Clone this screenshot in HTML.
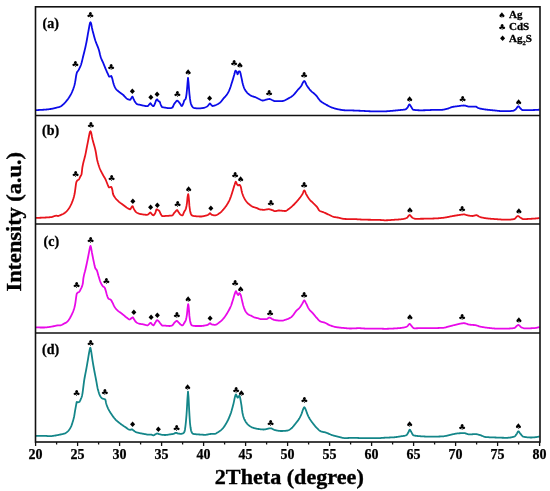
<!DOCTYPE html>
<html><head><meta charset="utf-8"><style>
html,body{margin:0;padding:0;background:#fff;}
body{width:550px;height:491px;overflow:hidden;}
svg{display:block;}
.tl{font-family:"Liberation Serif",serif;font-weight:bold;font-size:14px;text-anchor:middle;fill:#000;stroke:#000;stroke-width:0.25px;}
.m{font-family:"DejaVu Sans",sans-serif;font-size:8.0px;text-anchor:middle;dominant-baseline:central;fill:#000;}
.pl{font-family:"Liberation Serif",serif;font-weight:bold;font-size:14px;fill:#000;stroke:#000;stroke-width:0.3px;}
.lg{font-family:"Liberation Serif",serif;font-weight:bold;font-size:11px;fill:#000;stroke:#000;stroke-width:0.3px;}
.ax{font-family:"Liberation Serif",serif;font-weight:bold;font-size:21px;fill:#000;stroke:#000;stroke-width:0.35px;}
</style></head><body>
<svg width="550" height="491" viewBox="0 0 550 491">
<rect width="550" height="491" fill="#fff"/>
<g fill="none" stroke-width="1.8" stroke-linejoin="round">
<path d="M35.00,110.10 L35.50,110.09 L36.00,110.09 L36.50,110.07 L37.00,110.06 L37.50,110.04 L38.00,110.03 L38.50,110.00 L39.00,109.98 L39.50,109.96 L40.00,109.93 L40.50,109.91 L41.00,109.88 L41.50,109.85 L42.00,109.82 L42.50,109.79 L43.00,109.76 L43.50,109.73 L43.90,109.70 L44.00,109.69 L44.50,109.66 L45.00,109.62 L45.50,109.58 L46.00,109.54 L46.50,109.49 L47.00,109.44 L47.50,109.39 L48.00,109.33 L48.50,109.27 L49.00,109.21 L49.50,109.14 L50.00,109.08 L50.50,109.00 L51.00,108.93 L51.20,108.90 L51.50,108.85 L52.00,108.76 L52.50,108.66 L53.00,108.55 L53.50,108.43 L54.00,108.30 L54.50,108.17 L55.00,108.03 L55.50,107.90 L56.00,107.76 L56.50,107.63 L57.00,107.50 L57.50,107.38 L58.00,107.26 L58.50,107.15 L59.00,107.02 L59.50,106.88 L60.00,106.70 L60.50,106.47 L61.00,106.19 L61.50,105.85 L62.00,105.47 L62.50,105.05 L63.00,104.62 L63.50,104.18 L63.70,104.00 L64.00,103.72 L64.50,103.23 L65.00,102.70 L65.50,102.14 L66.00,101.54 L66.50,100.92 L67.00,100.29 L67.30,99.90 L67.50,99.64 L68.00,98.96 L68.50,98.24 L69.00,97.49 L69.50,96.70 L70.00,95.87 L70.10,95.70 L70.50,95.00 L71.00,94.07 L71.50,93.07 L72.00,92.01 L72.40,91.10 L72.50,90.87 L73.00,89.65 L73.50,88.31 L74.00,86.78 L74.20,86.10 L74.50,84.96 L75.00,82.69 L75.40,80.60 L75.50,80.00 L76.00,76.56 L76.10,76.00 L76.50,74.04 L77.00,72.30 L77.50,71.49 L78.00,70.92 L78.30,70.50 L78.50,70.17 L79.00,69.24 L79.50,68.22 L79.70,67.80 L80.00,67.16 L80.50,66.04 L80.90,65.00 L81.00,64.71 L81.50,63.06 L82.00,61.17 L82.50,59.12 L83.00,57.03 L83.30,55.80 L83.50,54.99 L84.00,52.98 L84.50,50.94 L85.00,48.85 L85.50,46.69 L86.00,44.41 L86.40,42.50 L86.50,42.00 L87.00,39.25 L87.50,36.30 L88.00,33.40 L88.40,31.30 L88.50,30.80 L89.00,28.00 L89.50,25.21 L90.00,23.06 L90.50,22.20 L91.00,23.11 L91.50,25.30 L92.00,27.96 L92.50,30.30 L93.00,32.20 L93.50,34.09 L94.00,35.94 L94.50,37.72 L95.00,39.41 L95.50,41.00 L96.00,42.43 L96.50,43.72 L97.00,44.94 L97.50,46.14 L98.00,47.40 L98.50,48.77 L98.90,50.00 L99.00,50.34 L99.50,52.31 L100.00,54.47 L100.50,56.38 L100.60,56.70 L101.00,57.85 L101.50,59.12 L102.00,60.27 L102.50,61.37 L103.00,62.47 L103.40,63.40 L103.50,63.64 L104.00,64.86 L104.50,66.10 L105.00,67.33 L105.50,68.55 L106.00,69.74 L106.20,70.20 L106.50,70.89 L107.00,72.02 L107.50,73.13 L108.00,74.19 L108.20,74.60 L108.50,75.31 L109.00,76.44 L109.30,76.70 L109.50,76.69 L110.00,76.56 L110.20,76.50 L110.50,76.35 L111.00,76.04 L111.20,76.00 L111.50,76.31 L112.00,77.73 L112.40,79.10 L112.50,79.44 L113.00,81.60 L113.50,83.60 L114.00,85.03 L114.50,86.31 L115.00,87.40 L115.50,88.30 L115.70,88.60 L116.00,89.00 L116.50,89.59 L117.00,90.10 L117.50,90.55 L118.00,90.97 L118.50,91.40 L119.00,91.82 L119.50,92.21 L120.00,92.59 L120.50,92.95 L121.00,93.31 L121.50,93.66 L122.00,94.03 L122.50,94.40 L123.00,94.80 L123.50,95.24 L124.00,95.74 L124.50,96.26 L125.00,96.81 L125.50,97.34 L126.00,97.86 L126.50,98.33 L127.00,98.74 L127.50,99.07 L128.00,99.30 L128.50,99.47 L129.00,99.63 L129.50,99.74 L130.00,99.80 L130.10,99.80 L130.50,99.49 L131.00,98.59 L131.40,97.90 L131.50,97.75 L132.00,96.93 L132.40,96.60 L132.50,96.64 L133.00,97.67 L133.30,98.40 L133.50,98.81 L134.00,99.91 L134.50,100.97 L135.00,101.86 L135.10,102.00 L135.50,102.54 L136.00,103.16 L136.50,103.70 L137.00,104.11 L137.40,104.30 L137.50,104.33 L138.00,104.46 L138.50,104.55 L139.00,104.62 L139.50,104.69 L140.00,104.78 L140.10,104.80 L140.50,104.89 L141.00,105.01 L141.50,105.14 L142.00,105.28 L142.50,105.41 L143.00,105.53 L143.50,105.64 L143.80,105.70 L144.00,105.74 L144.50,105.83 L145.00,105.92 L145.50,106.01 L146.00,106.08 L146.50,106.14 L147.00,106.19 L147.50,106.20 L148.00,105.94 L148.50,105.35 L149.00,104.65 L149.30,104.30 L149.50,104.07 L150.00,103.44 L150.40,103.20 L150.50,103.22 L151.00,103.85 L151.50,104.68 L151.60,104.80 L152.00,105.22 L152.50,105.72 L153.00,106.09 L153.40,106.20 L153.50,106.18 L154.00,105.59 L154.50,104.55 L154.80,103.90 L155.00,103.43 L155.50,101.94 L156.00,100.56 L156.20,100.20 L156.50,99.78 L157.00,99.32 L157.10,99.30 L157.50,99.60 L158.00,100.44 L158.50,101.10 L159.00,101.32 L159.50,101.53 L159.60,101.60 L160.00,102.38 L160.50,103.98 L160.80,104.80 L161.00,105.24 L161.50,106.34 L162.00,107.05 L162.10,107.10 L162.50,107.22 L163.00,107.34 L163.50,107.42 L164.00,107.48 L164.50,107.53 L165.00,107.60 L165.50,107.68 L166.00,107.77 L166.50,107.86 L167.00,107.94 L167.50,108.02 L168.00,108.10 L168.50,108.15 L169.00,108.19 L169.50,108.20 L170.00,108.18 L170.50,108.12 L171.00,108.02 L171.50,107.89 L172.00,107.72 L172.30,107.60 L172.50,107.44 L173.00,106.55 L173.50,105.34 L174.00,104.30 L174.50,103.54 L175.00,102.86 L175.50,102.23 L175.70,102.00 L176.00,101.62 L176.50,100.98 L177.00,100.61 L177.10,100.60 L177.50,100.74 L178.00,101.18 L178.50,101.70 L179.00,102.25 L179.50,102.90 L180.00,103.57 L180.10,103.70 L180.50,104.33 L181.00,105.21 L181.50,105.87 L181.80,106.00 L182.00,105.93 L182.50,105.23 L183.00,104.14 L183.20,103.70 L183.50,102.86 L184.00,101.15 L184.30,100.40 L184.50,100.10 L185.00,99.61 L185.50,99.06 L185.70,98.70 L186.00,97.60 L186.50,94.35 L186.60,93.60 L187.00,89.52 L187.40,84.70 L187.50,83.42 L188.00,77.90 L188.50,82.40 L189.00,88.78 L189.40,93.60 L189.50,94.54 L190.00,98.94 L190.50,102.17 L190.60,102.60 L191.00,104.00 L191.50,105.30 L191.90,106.00 L192.00,106.14 L192.50,106.79 L193.00,107.34 L193.50,107.75 L194.00,107.98 L194.10,108.00 L194.50,108.07 L195.00,108.14 L195.50,108.21 L196.00,108.27 L196.50,108.31 L197.00,108.35 L197.50,108.38 L198.00,108.39 L198.50,108.40 L198.60,108.40 L199.00,108.40 L199.50,108.38 L200.00,108.35 L200.50,108.31 L201.00,108.27 L201.50,108.21 L202.00,108.15 L202.50,108.09 L203.00,108.01 L203.10,108.00 L203.50,107.93 L204.00,107.81 L204.50,107.66 L205.00,107.49 L205.50,107.28 L206.00,107.04 L206.50,106.78 L207.00,106.50 L207.50,106.11 L208.00,105.59 L208.50,105.02 L208.70,104.80 L209.00,104.39 L209.50,103.67 L209.80,103.50 L210.00,103.55 L210.50,103.99 L211.00,104.60 L211.20,104.80 L211.50,105.11 L212.00,105.66 L212.50,105.99 L212.60,106.00 L213.00,105.97 L213.50,105.88 L214.00,105.74 L214.50,105.57 L215.00,105.40 L215.50,105.22 L216.00,105.02 L216.50,104.80 L217.00,104.55 L217.50,104.29 L218.00,104.00 L218.50,103.68 L219.00,103.35 L219.50,103.00 L219.90,102.70 L220.00,102.62 L220.50,102.17 L221.00,101.64 L221.50,101.05 L222.00,100.43 L222.50,99.78 L223.00,99.14 L223.50,98.52 L223.60,98.40 L224.00,97.94 L224.50,97.39 L225.00,96.84 L225.50,96.29 L226.00,95.70 L226.50,95.08 L227.00,94.39 L227.20,94.10 L227.50,93.63 L228.00,92.77 L228.50,91.83 L229.00,90.79 L229.50,89.67 L229.70,89.20 L230.00,88.44 L230.50,87.02 L231.00,85.47 L231.50,83.84 L232.00,82.22 L232.10,81.90 L232.50,80.61 L233.00,78.96 L233.50,77.28 L234.00,75.60 L234.30,74.60 L234.50,73.84 L235.00,71.70 L235.50,70.60 L236.00,70.90 L236.50,71.60 L236.80,72.10 L237.00,72.63 L237.50,74.22 L237.60,74.30 L238.00,73.57 L238.50,71.94 L238.80,71.50 L239.00,71.50 L239.50,71.50 L239.80,71.50 L240.00,71.67 L240.50,73.27 L241.00,75.65 L241.30,77.00 L241.50,77.86 L242.00,80.29 L242.50,82.71 L242.90,84.30 L243.00,84.63 L243.50,86.21 L244.00,87.62 L244.50,88.82 L245.00,89.80 L245.50,90.61 L246.00,91.32 L246.50,91.96 L247.00,92.53 L247.50,93.04 L248.00,93.50 L248.50,93.93 L249.00,94.33 L249.50,94.71 L250.00,95.05 L250.50,95.37 L251.00,95.65 L251.50,95.91 L251.70,96.00 L252.00,96.13 L252.50,96.31 L253.00,96.47 L253.50,96.62 L254.00,96.77 L254.50,96.92 L255.00,97.09 L255.30,97.20 L255.50,97.28 L256.00,97.50 L256.50,97.75 L257.00,98.00 L257.50,98.26 L258.00,98.52 L258.50,98.77 L259.00,99.00 L259.50,99.24 L260.00,99.50 L260.50,99.77 L261.00,100.03 L261.50,100.25 L262.00,100.41 L262.50,100.49 L262.70,100.50 L263.00,100.49 L263.50,100.42 L264.00,100.30 L264.50,100.15 L265.00,99.98 L265.50,99.82 L266.00,99.67 L266.30,99.60 L266.50,99.55 L267.00,99.43 L267.50,99.30 L268.00,99.18 L268.50,99.08 L269.00,99.02 L269.40,99.00 L269.50,99.00 L270.00,99.08 L270.50,99.25 L271.00,99.47 L271.50,99.73 L272.00,99.98 L272.50,100.20 L273.00,100.43 L273.50,100.69 L274.00,100.94 L274.50,101.13 L275.00,101.20 L275.50,101.20 L276.00,101.20 L276.50,101.19 L277.00,101.19 L277.50,101.18 L278.00,101.17 L278.50,101.16 L279.00,101.14 L279.50,101.13 L280.00,101.11 L280.50,101.10 L281.00,101.08 L281.50,101.05 L282.00,101.03 L282.50,101.01 L282.60,101.00 L283.00,100.96 L283.50,100.85 L284.00,100.70 L284.50,100.50 L285.00,100.27 L285.50,100.01 L286.00,99.74 L286.50,99.46 L287.00,99.17 L287.50,98.90 L287.70,98.80 L288.00,98.65 L288.50,98.38 L289.00,98.11 L289.50,97.83 L290.00,97.54 L290.50,97.24 L291.00,96.92 L291.50,96.58 L292.00,96.22 L292.50,95.84 L292.80,95.60 L293.00,95.43 L293.50,94.97 L294.00,94.45 L294.50,93.89 L295.00,93.30 L295.50,92.69 L296.00,92.07 L296.50,91.45 L297.00,90.85 L297.30,90.50 L297.50,90.27 L298.00,89.72 L298.50,89.17 L299.00,88.62 L299.50,88.06 L300.00,87.48 L300.50,86.88 L301.00,86.23 L301.10,86.10 L301.50,85.47 L302.00,84.49 L302.50,83.43 L303.00,82.42 L303.50,81.59 L304.00,81.09 L304.30,81.00 L304.50,81.06 L305.00,81.62 L305.50,82.61 L306.00,83.77 L306.50,84.87 L306.80,85.40 L307.00,85.71 L307.50,86.46 L308.00,87.19 L308.50,87.89 L309.00,88.57 L309.50,89.22 L310.00,89.82 L310.50,90.39 L310.60,90.50 L311.00,90.91 L311.50,91.39 L312.00,91.84 L312.50,92.26 L313.00,92.66 L313.50,93.06 L314.00,93.46 L314.50,93.88 L315.00,94.32 L315.50,94.80 L315.70,95.00 L316.00,95.32 L316.50,95.91 L317.00,96.56 L317.50,97.23 L318.00,97.93 L318.50,98.62 L319.00,99.30 L319.50,99.93 L320.00,100.52 L320.50,101.03 L320.80,101.30 L321.00,101.46 L321.50,101.85 L322.00,102.21 L322.50,102.55 L323.00,102.86 L323.50,103.16 L324.00,103.45 L324.50,103.73 L325.00,104.00 L325.50,104.28 L325.90,104.50 L326.00,104.56 L326.50,104.84 L327.00,105.12 L327.50,105.40 L328.00,105.68 L328.50,105.95 L329.00,106.21 L329.50,106.47 L330.00,106.72 L330.50,106.96 L331.00,107.19 L331.50,107.40 L332.00,107.59 L332.30,107.70 L332.50,107.77 L333.00,107.94 L333.50,108.10 L334.00,108.26 L334.50,108.41 L335.00,108.56 L335.50,108.69 L336.00,108.83 L336.50,108.95 L337.00,109.07 L337.50,109.18 L338.00,109.28 L338.50,109.38 L338.60,109.40 L339.00,109.47 L339.50,109.57 L340.00,109.66 L340.50,109.75 L341.00,109.83 L341.50,109.92 L342.00,110.00 L342.50,110.07 L343.00,110.13 L343.50,110.19 L344.00,110.24 L344.50,110.27 L345.00,110.30 L345.50,110.32 L346.00,110.34 L346.50,110.35 L347.00,110.37 L347.50,110.38 L348.00,110.39 L348.50,110.40 L349.00,110.41 L349.50,110.42 L350.00,110.42 L350.50,110.43 L351.00,110.44 L351.50,110.45 L352.00,110.46 L352.50,110.47 L353.00,110.48 L353.50,110.50 L353.60,110.50 L354.00,110.51 L354.50,110.53 L355.00,110.55 L355.50,110.57 L356.00,110.59 L356.50,110.61 L357.00,110.63 L357.50,110.65 L358.00,110.68 L358.50,110.70 L359.00,110.73 L359.50,110.75 L360.00,110.77 L360.50,110.80 L361.00,110.82 L361.50,110.85 L362.00,110.87 L362.50,110.89 L362.70,110.90 L363.00,110.91 L363.50,110.94 L364.00,110.96 L364.50,110.99 L365.00,111.02 L365.50,111.05 L366.00,111.08 L366.50,111.11 L367.00,111.14 L367.50,111.16 L368.00,111.19 L368.50,111.21 L369.00,111.24 L369.50,111.26 L370.00,111.27 L370.50,111.28 L371.00,111.29 L371.50,111.30 L371.80,111.30 L372.00,111.30 L372.50,111.30 L373.00,111.30 L373.50,111.30 L374.00,111.30 L374.50,111.30 L375.00,111.30 L375.50,111.30 L376.00,111.30 L376.50,111.30 L377.00,111.30 L377.50,111.30 L378.00,111.30 L378.50,111.30 L379.00,111.30 L379.50,111.30 L380.00,111.30 L380.50,111.30 L381.00,111.30 L381.50,111.30 L382.00,111.30 L382.50,111.30 L383.00,111.30 L383.50,111.30 L384.00,111.30 L384.50,111.30 L385.00,111.30 L385.50,111.30 L386.00,111.28 L386.50,111.27 L387.00,111.24 L387.50,111.21 L388.00,111.17 L388.50,111.14 L389.00,111.09 L389.50,111.05 L390.00,111.00 L390.50,110.96 L391.00,110.91 L391.50,110.87 L392.00,110.82 L392.30,110.80 L392.50,110.78 L393.00,110.74 L393.50,110.70 L394.00,110.65 L394.50,110.61 L395.00,110.56 L395.50,110.51 L396.00,110.46 L396.50,110.41 L397.00,110.36 L397.50,110.31 L398.00,110.26 L398.50,110.21 L399.00,110.15 L399.50,110.10 L400.00,110.05 L400.50,110.01 L401.00,109.97 L401.50,109.93 L402.00,109.89 L402.50,109.84 L403.00,109.79 L403.50,109.73 L404.00,109.67 L404.50,109.58 L405.00,109.49 L405.40,109.40 L405.50,109.37 L406.00,109.11 L406.50,108.69 L407.00,108.17 L407.50,107.60 L408.00,106.74 L408.50,105.62 L409.00,104.69 L409.40,104.40 L409.50,104.42 L410.00,104.87 L410.50,105.71 L411.00,106.60 L411.20,106.90 L411.50,107.34 L412.00,108.18 L412.50,108.99 L413.00,109.59 L413.40,109.80 L413.50,109.81 L414.00,109.88 L414.50,109.94 L415.00,110.00 L415.50,110.05 L416.00,110.09 L416.50,110.13 L417.00,110.17 L417.50,110.20 L418.00,110.23 L418.50,110.25 L419.00,110.26 L419.50,110.28 L420.00,110.29 L420.50,110.30 L421.00,110.30 L421.40,110.30 L421.50,110.30 L422.00,110.30 L422.50,110.29 L423.00,110.28 L423.50,110.27 L424.00,110.26 L424.50,110.25 L425.00,110.23 L425.50,110.21 L426.00,110.19 L426.50,110.18 L427.00,110.16 L427.50,110.14 L428.00,110.12 L428.50,110.10 L428.60,110.10 L429.00,110.09 L429.50,110.06 L430.00,110.04 L430.50,110.02 L431.00,109.99 L431.50,109.96 L432.00,109.93 L432.50,109.91 L433.00,109.88 L433.50,109.86 L434.00,109.84 L434.50,109.82 L435.00,109.81 L435.50,109.80 L435.90,109.80 L436.00,109.80 L436.50,109.80 L437.00,109.80 L437.50,109.80 L438.00,109.80 L438.50,109.80 L439.00,109.80 L439.50,109.80 L440.00,109.80 L440.50,109.80 L441.00,109.80 L441.50,109.80 L441.70,109.80 L442.00,109.80 L442.50,109.77 L443.00,109.72 L443.50,109.64 L444.00,109.55 L444.50,109.45 L445.00,109.34 L445.50,109.22 L446.00,109.09 L446.50,108.96 L447.00,108.83 L447.50,108.70 L448.00,108.56 L448.50,108.39 L449.00,108.20 L449.50,108.00 L450.00,107.79 L450.50,107.58 L451.00,107.38 L451.50,107.20 L452.00,107.05 L452.50,106.92 L452.60,106.90 L453.00,106.82 L453.50,106.74 L454.00,106.66 L454.50,106.59 L455.00,106.52 L455.50,106.46 L456.00,106.40 L456.50,106.34 L457.00,106.28 L457.50,106.22 L457.70,106.20 L458.00,106.16 L458.50,106.09 L459.00,106.02 L459.50,105.94 L460.00,105.87 L460.50,105.80 L461.00,105.73 L461.50,105.66 L462.00,105.61 L462.50,105.56 L463.00,105.53 L463.50,105.51 L463.90,105.50 L464.00,105.50 L464.50,105.54 L465.00,105.62 L465.50,105.73 L466.00,105.87 L466.50,106.02 L467.00,106.17 L467.50,106.31 L468.00,106.44 L468.50,106.53 L469.00,106.59 L469.30,106.60 L469.50,106.60 L470.00,106.60 L470.50,106.60 L471.00,106.60 L471.50,106.60 L472.00,106.60 L472.50,106.60 L473.00,106.60 L473.50,106.60 L474.00,106.60 L474.50,106.60 L475.00,106.60 L475.50,106.60 L476.00,106.69 L476.50,106.92 L477.00,107.23 L477.50,107.57 L478.00,107.88 L478.50,108.10 L479.00,108.25 L479.50,108.39 L480.00,108.52 L480.50,108.64 L481.00,108.75 L481.50,108.86 L482.00,108.96 L482.50,109.05 L483.00,109.14 L483.50,109.22 L484.00,109.30 L484.50,109.37 L484.70,109.40 L485.00,109.44 L485.50,109.51 L486.00,109.58 L486.50,109.64 L487.00,109.70 L487.50,109.76 L488.00,109.82 L488.50,109.87 L489.00,109.92 L489.50,109.97 L490.00,110.02 L490.50,110.07 L491.00,110.12 L491.50,110.17 L492.00,110.21 L492.50,110.26 L493.00,110.31 L493.50,110.35 L494.00,110.40 L494.50,110.45 L495.00,110.50 L495.50,110.56 L496.00,110.61 L496.50,110.67 L497.00,110.73 L497.50,110.78 L498.00,110.84 L498.50,110.90 L499.00,110.95 L499.50,111.00 L500.00,111.04 L500.50,111.08 L501.00,111.12 L501.50,111.15 L502.00,111.17 L502.50,111.19 L503.00,111.20 L503.30,111.20 L503.50,111.20 L504.00,111.20 L504.50,111.20 L505.00,111.19 L505.50,111.19 L506.00,111.18 L506.50,111.17 L507.00,111.16 L507.50,111.15 L508.00,111.13 L508.50,111.11 L509.00,111.10 L509.50,111.08 L510.00,111.05 L510.50,111.03 L511.00,111.00 L511.50,110.97 L512.00,110.94 L512.50,110.91 L512.60,110.90 L513.00,110.84 L513.50,110.68 L514.00,110.44 L514.50,110.14 L515.00,109.81 L515.50,109.47 L515.60,109.40 L516.00,109.02 L516.50,108.36 L517.00,107.61 L517.50,106.92 L518.00,106.44 L518.40,106.30 L518.50,106.31 L519.00,106.62 L519.50,107.21 L520.00,107.90 L520.50,108.51 L520.60,108.60 L521.00,108.98 L521.50,109.48 L522.00,109.89 L522.50,110.09 L522.60,110.10 L523.00,110.10 L523.50,110.10 L524.00,110.10 L524.50,110.10 L525.00,110.10 L525.50,110.10 L526.00,110.10 L526.50,110.10 L527.00,110.10 L527.50,110.10 L528.00,110.10 L528.50,110.10 L529.00,110.10 L529.50,110.10 L529.60,110.10 L530.00,110.10 L530.50,110.10 L531.00,110.09 L531.50,110.08 L532.00,110.07 L532.50,110.06 L533.00,110.04 L533.50,110.02 L534.00,110.00 L534.50,109.98 L535.00,109.96 L535.50,109.94 L536.00,109.91 L536.50,109.89 L537.00,109.86 L537.50,109.83 L538.00,109.80 L538.50,109.77 L539.00,109.74 L539.50,109.71 L539.60,109.70" stroke="#0c0ce8"/>
<path d="M36.00,217.90 L36.50,217.89 L37.00,217.88 L37.50,217.86 L38.00,217.85 L38.50,217.83 L39.00,217.81 L39.50,217.79 L40.00,217.77 L40.50,217.75 L41.00,217.73 L41.50,217.71 L42.00,217.69 L42.50,217.67 L43.00,217.64 L43.50,217.62 L43.90,217.60 L44.00,217.60 L44.50,217.57 L45.00,217.55 L45.50,217.52 L46.00,217.50 L46.50,217.47 L47.00,217.44 L47.50,217.41 L48.00,217.38 L48.50,217.35 L49.00,217.31 L49.50,217.27 L50.00,217.22 L50.50,217.17 L51.00,217.12 L51.20,217.10 L51.50,217.06 L52.00,216.94 L52.50,216.79 L53.00,216.61 L53.50,216.42 L54.00,216.23 L54.50,216.05 L55.00,215.90 L55.50,215.78 L56.00,215.71 L56.30,215.70 L56.50,215.71 L57.00,215.80 L57.50,215.92 L58.00,216.00 L58.10,216.00 L58.50,215.95 L59.00,215.77 L59.50,215.53 L60.00,215.30 L60.50,215.09 L61.00,214.88 L61.50,214.67 L62.00,214.44 L62.50,214.20 L63.00,213.95 L63.50,213.68 L64.00,213.39 L64.50,213.07 L64.60,213.00 L65.00,212.71 L65.50,212.31 L66.00,211.87 L66.50,211.38 L67.00,210.85 L67.50,210.28 L68.00,209.68 L68.30,209.30 L68.50,209.04 L69.00,208.32 L69.50,207.52 L70.00,206.64 L70.50,205.70 L71.00,204.70 L71.50,203.62 L72.00,202.44 L72.50,201.15 L73.00,199.72 L73.30,198.80 L73.50,198.16 L74.00,196.41 L74.50,194.29 L74.70,193.30 L75.00,191.37 L75.50,187.51 L75.60,186.80 L76.00,183.85 L76.30,182.30 L76.50,181.78 L77.00,180.86 L77.40,180.40 L77.50,180.31 L78.00,180.00 L78.50,179.74 L78.80,179.50 L79.00,179.26 L79.50,178.32 L80.00,177.21 L80.20,176.80 L80.50,176.28 L81.00,175.50 L81.50,174.33 L81.60,174.00 L82.00,170.65 L82.30,167.90 L82.50,166.71 L83.00,164.14 L83.50,162.00 L84.00,160.11 L84.50,158.28 L85.00,156.35 L85.40,154.60 L85.50,154.13 L86.00,151.63 L86.50,149.00 L87.00,146.36 L87.50,143.82 L87.80,142.40 L88.00,141.44 L88.50,138.77 L89.00,136.03 L89.50,133.60 L90.00,131.86 L90.50,131.20 L91.00,132.10 L91.50,134.28 L92.00,136.94 L92.50,139.30 L93.00,141.17 L93.50,142.92 L94.00,144.65 L94.50,146.44 L95.00,148.36 L95.50,150.50 L96.00,153.18 L96.50,156.26 L97.00,159.08 L97.20,160.00 L97.50,161.22 L98.00,163.08 L98.50,164.78 L99.00,166.32 L99.50,167.72 L100.00,169.00 L100.50,170.17 L101.00,171.22 L101.50,172.19 L102.00,173.12 L102.50,174.04 L102.80,174.60 L103.00,174.97 L103.50,175.85 L104.00,176.70 L104.50,177.55 L105.00,178.43 L105.50,179.40 L105.60,179.60 L106.00,180.49 L106.50,181.73 L107.00,183.02 L107.50,184.28 L107.90,185.20 L108.00,185.43 L108.50,186.72 L109.00,187.40 L109.50,187.33 L110.00,187.20 L110.50,187.05 L111.00,186.92 L111.20,186.90 L111.50,187.18 L112.00,188.61 L112.40,190.20 L112.50,190.76 L112.90,193.60 L113.00,193.93 L113.50,195.23 L114.00,196.12 L114.50,196.85 L114.60,197.00 L115.00,197.58 L115.50,198.25 L116.00,198.86 L116.50,199.43 L117.00,199.96 L117.50,200.46 L118.00,200.94 L118.50,201.40 L119.00,201.84 L119.50,202.25 L120.00,202.65 L120.50,203.02 L121.00,203.38 L121.50,203.74 L122.00,204.09 L122.50,204.44 L123.00,204.80 L123.50,205.17 L124.00,205.55 L124.50,205.93 L125.00,206.32 L125.50,206.70 L126.00,207.07 L126.50,207.43 L127.00,207.77 L127.50,208.09 L128.00,208.39 L128.50,208.65 L128.60,208.70 L129.00,208.91 L129.50,209.16 L130.00,209.30 L130.10,209.30 L130.50,209.01 L131.00,208.16 L131.40,207.50 L131.50,207.36 L132.00,206.54 L132.50,206.10 L133.00,206.87 L133.50,208.19 L133.60,208.40 L134.00,209.14 L134.50,210.05 L135.00,210.86 L135.50,211.50 L135.60,211.60 L136.00,211.97 L136.50,212.38 L137.00,212.73 L137.50,213.04 L138.00,213.28 L138.30,213.40 L138.50,213.47 L139.00,213.64 L139.50,213.78 L140.00,213.91 L140.50,214.03 L141.00,214.13 L141.50,214.22 L142.00,214.30 L142.50,214.38 L143.00,214.45 L143.50,214.53 L144.00,214.60 L144.50,214.66 L145.00,214.72 L145.50,214.76 L146.00,214.79 L146.50,214.80 L146.60,214.80 L147.00,214.77 L147.50,214.65 L148.00,214.47 L148.40,214.30 L148.50,214.25 L149.00,213.72 L149.50,213.03 L150.00,212.55 L150.20,212.50 L150.50,212.62 L151.00,213.18 L151.50,213.80 L151.60,213.90 L152.00,214.29 L152.50,214.80 L153.00,215.18 L153.40,215.30 L153.50,215.29 L154.00,214.98 L154.50,214.35 L155.00,213.52 L155.30,213.00 L155.50,212.51 L156.00,210.68 L156.50,209.35 L156.60,209.30 L157.00,209.40 L157.50,209.68 L157.70,209.80 L158.00,209.97 L158.50,210.29 L159.00,210.69 L159.40,211.10 L159.50,211.24 L160.00,212.37 L160.50,213.71 L160.80,214.30 L161.00,214.60 L161.50,215.32 L162.00,215.90 L162.50,216.19 L162.60,216.20 L163.00,216.19 L163.50,216.15 L164.00,216.10 L164.50,216.05 L165.00,216.00 L165.50,215.96 L166.00,215.93 L166.50,215.90 L167.00,215.87 L167.50,215.84 L168.00,215.81 L168.50,215.78 L169.00,215.74 L169.50,215.70 L170.00,215.66 L170.50,215.63 L171.00,215.59 L171.50,215.53 L172.00,215.46 L172.30,215.40 L172.50,215.31 L173.00,214.74 L173.50,213.94 L174.00,213.20 L174.50,212.61 L175.00,212.03 L175.50,211.50 L175.70,211.30 L176.00,210.98 L176.50,210.43 L177.00,210.11 L177.10,210.10 L177.50,210.37 L178.00,211.17 L178.50,212.00 L179.00,212.71 L179.50,213.47 L180.00,214.15 L180.50,214.67 L180.70,214.80 L181.00,214.96 L181.50,215.19 L182.00,215.35 L182.40,215.40 L182.50,215.38 L183.00,214.68 L183.50,213.44 L184.00,212.20 L184.10,212.00 L184.50,211.34 L185.00,210.59 L185.50,209.68 L185.70,209.20 L186.00,208.25 L186.50,205.97 L186.90,203.60 L187.00,202.83 L187.50,197.65 L187.60,196.90 L188.00,194.55 L188.20,194.10 L188.50,195.40 L188.80,198.00 L189.00,200.44 L189.40,205.90 L189.50,206.75 L190.00,210.45 L190.50,212.90 L190.60,213.20 L191.00,214.17 L191.50,215.04 L191.90,215.40 L192.00,215.45 L192.50,215.65 L193.00,215.81 L193.50,215.94 L194.00,216.04 L194.50,216.11 L195.00,216.17 L195.30,216.20 L195.50,216.22 L196.00,216.26 L196.50,216.30 L197.00,216.34 L197.50,216.38 L198.00,216.41 L198.50,216.44 L199.00,216.46 L199.50,216.48 L200.00,216.49 L200.50,216.50 L200.90,216.50 L201.00,216.50 L201.50,216.48 L202.00,216.43 L202.50,216.35 L203.00,216.26 L203.50,216.16 L204.00,216.04 L204.50,215.92 L205.00,215.80 L205.40,215.70 L205.50,215.68 L206.00,215.56 L206.50,215.42 L207.00,215.27 L207.50,215.10 L208.00,214.89 L208.20,214.80 L208.50,214.59 L209.00,214.06 L209.50,213.52 L210.00,213.21 L210.10,213.20 L210.50,213.44 L211.00,214.11 L211.50,214.60 L212.00,214.79 L212.50,214.97 L213.00,215.12 L213.50,215.24 L214.00,215.32 L214.50,215.38 L215.00,215.40 L215.50,215.36 L216.00,215.24 L216.50,215.06 L217.00,214.82 L217.50,214.54 L218.00,214.22 L218.50,213.89 L219.00,213.53 L219.50,213.18 L219.90,212.90 L220.00,212.83 L220.50,212.44 L221.00,212.01 L221.50,211.52 L222.00,211.00 L222.50,210.46 L223.00,209.89 L223.50,209.32 L223.60,209.20 L224.00,208.73 L224.50,208.12 L225.00,207.49 L225.50,206.82 L226.00,206.12 L226.50,205.39 L227.00,204.62 L227.20,204.30 L227.50,203.81 L228.00,202.95 L228.50,202.04 L229.00,201.06 L229.50,200.02 L230.00,198.91 L230.30,198.20 L230.50,197.70 L231.00,196.30 L231.50,194.76 L232.00,193.15 L232.50,191.53 L232.70,190.90 L233.00,189.94 L233.50,188.28 L234.00,186.63 L234.50,185.09 L234.60,184.80 L235.00,183.49 L235.50,182.02 L235.80,181.70 L236.00,181.85 L236.50,183.03 L237.00,184.20 L237.50,184.88 L238.00,185.35 L238.20,185.40 L238.50,185.31 L239.00,184.96 L239.40,184.80 L239.50,184.82 L240.00,185.28 L240.50,186.18 L240.70,186.60 L241.00,187.63 L241.50,190.25 L241.90,192.10 L242.00,192.44 L242.50,194.01 L243.00,195.37 L243.50,196.56 L243.70,197.00 L244.00,197.63 L244.50,198.61 L245.00,199.50 L245.50,200.32 L246.00,201.04 L246.20,201.30 L246.50,201.67 L247.00,202.25 L247.50,202.77 L248.00,203.26 L248.50,203.71 L249.00,204.14 L249.20,204.30 L249.50,204.54 L250.00,204.94 L250.50,205.32 L251.00,205.69 L251.50,206.03 L252.00,206.34 L252.50,206.61 L252.90,206.80 L253.00,206.84 L253.50,207.04 L254.00,207.21 L254.50,207.36 L255.00,207.50 L255.50,207.65 L256.00,207.80 L256.50,207.96 L256.60,208.00 L257.00,208.16 L257.50,208.40 L258.00,208.65 L258.50,208.90 L259.00,209.14 L259.50,209.33 L260.00,209.47 L260.20,209.50 L260.50,209.54 L261.00,209.60 L261.50,209.66 L262.00,209.71 L262.50,209.75 L263.00,209.78 L263.50,209.80 L263.90,209.80 L264.00,209.80 L264.50,209.78 L265.00,209.72 L265.50,209.65 L266.00,209.56 L266.50,209.47 L267.00,209.38 L267.50,209.30 L268.00,209.24 L268.50,209.21 L268.80,209.20 L269.00,209.21 L269.50,209.26 L270.00,209.37 L270.50,209.51 L271.00,209.67 L271.50,209.85 L272.00,210.03 L272.50,210.20 L273.00,210.39 L273.50,210.63 L274.00,210.86 L274.50,211.03 L275.00,211.10 L275.50,211.07 L276.00,211.00 L276.50,210.89 L277.00,210.78 L277.50,210.66 L278.00,210.57 L278.50,210.51 L278.80,210.50 L279.00,210.50 L279.50,210.52 L280.00,210.55 L280.50,210.59 L281.00,210.64 L281.50,210.69 L282.00,210.75 L282.50,210.81 L283.00,210.86 L283.50,210.91 L284.00,210.95 L284.50,210.98 L285.00,211.00 L285.20,211.00 L285.50,210.98 L286.00,210.84 L286.50,210.60 L287.00,210.29 L287.50,209.93 L288.00,209.55 L288.50,209.16 L289.00,208.80 L289.50,208.45 L290.00,208.07 L290.50,207.67 L291.00,207.26 L291.50,206.83 L292.00,206.39 L292.50,205.93 L293.00,205.46 L293.50,204.98 L294.00,204.50 L294.10,204.40 L294.50,204.00 L295.00,203.49 L295.50,202.96 L296.00,202.41 L296.50,201.85 L297.00,201.27 L297.50,200.68 L298.00,200.08 L298.50,199.47 L299.00,198.85 L299.20,198.60 L299.50,198.22 L300.00,197.60 L300.50,196.96 L301.00,196.29 L301.50,195.59 L302.00,194.84 L302.40,194.20 L302.50,194.02 L303.00,192.84 L303.50,191.53 L304.00,190.59 L304.30,190.40 L304.50,190.48 L305.00,191.28 L305.50,192.53 L306.00,193.80 L306.20,194.20 L306.50,194.74 L307.00,195.62 L307.50,196.47 L308.00,197.29 L308.50,198.07 L309.00,198.78 L309.40,199.30 L309.50,199.42 L310.00,200.00 L310.50,200.53 L311.00,201.03 L311.50,201.50 L312.00,201.96 L312.50,202.42 L313.00,202.90 L313.20,203.10 L313.50,203.40 L314.00,203.87 L314.50,204.33 L315.00,204.80 L315.50,205.28 L316.00,205.78 L316.50,206.32 L317.00,206.90 L317.50,207.63 L318.00,208.52 L318.50,209.42 L319.00,210.19 L319.50,210.70 L320.00,210.99 L320.50,211.23 L321.00,211.43 L321.50,211.59 L322.00,211.75 L322.50,211.91 L323.00,212.08 L323.30,212.20 L323.50,212.28 L324.00,212.50 L324.50,212.72 L325.00,212.94 L325.50,213.17 L326.00,213.40 L326.50,213.63 L327.00,213.86 L327.50,214.09 L328.00,214.32 L328.40,214.50 L328.50,214.55 L329.00,214.78 L329.50,215.03 L330.00,215.29 L330.50,215.55 L331.00,215.80 L331.50,216.04 L332.00,216.27 L332.50,216.48 L333.00,216.65 L333.50,216.80 L334.00,216.92 L334.50,217.02 L335.00,217.12 L335.50,217.20 L336.00,217.28 L336.50,217.36 L337.00,217.44 L337.50,217.51 L338.00,217.59 L338.50,217.68 L338.60,217.70 L339.00,217.78 L339.50,217.89 L340.00,218.01 L340.50,218.14 L341.00,218.27 L341.50,218.41 L342.00,218.53 L342.50,218.65 L343.00,218.76 L343.50,218.85 L344.00,218.92 L344.50,218.97 L345.00,219.00 L345.50,219.01 L346.00,219.02 L346.50,219.03 L347.00,219.03 L347.50,219.04 L348.00,219.04 L348.50,219.05 L349.00,219.05 L349.50,219.06 L350.00,219.06 L350.50,219.06 L351.00,219.07 L351.50,219.07 L352.00,219.08 L352.50,219.08 L353.00,219.09 L353.50,219.10 L353.60,219.10 L354.00,219.11 L354.50,219.13 L355.00,219.14 L355.50,219.17 L356.00,219.20 L356.50,219.22 L357.00,219.26 L357.50,219.29 L358.00,219.32 L358.50,219.36 L359.00,219.39 L359.50,219.43 L360.00,219.46 L360.50,219.49 L361.00,219.52 L361.50,219.55 L362.00,219.57 L362.50,219.59 L362.70,219.60 L363.00,219.61 L363.50,219.63 L364.00,219.64 L364.50,219.65 L365.00,219.67 L365.50,219.68 L366.00,219.69 L366.50,219.70 L367.00,219.71 L367.50,219.72 L368.00,219.73 L368.50,219.74 L369.00,219.75 L369.50,219.75 L370.00,219.76 L370.50,219.77 L371.00,219.78 L371.50,219.78 L372.00,219.79 L372.50,219.80 L373.00,219.81 L373.50,219.81 L374.00,219.82 L374.50,219.83 L375.00,219.84 L375.50,219.85 L376.00,219.86 L376.50,219.87 L377.00,219.88 L377.50,219.89 L378.00,219.91 L378.50,219.92 L379.00,219.94 L379.50,219.95 L380.00,219.97 L380.50,219.99 L380.90,220.00 L381.00,220.00 L381.50,220.03 L382.00,220.08 L382.50,220.12 L383.00,220.17 L383.50,220.22 L384.00,220.26 L384.50,220.29 L385.00,220.30 L385.50,220.30 L386.00,220.29 L386.50,220.27 L387.00,220.26 L387.50,220.23 L388.00,220.21 L388.50,220.18 L389.00,220.15 L389.50,220.11 L390.00,220.08 L390.50,220.04 L391.00,220.00 L391.50,219.96 L392.00,219.92 L392.50,219.89 L393.00,219.85 L393.50,219.81 L393.70,219.80 L394.00,219.78 L394.50,219.75 L395.00,219.72 L395.50,219.69 L396.00,219.66 L396.50,219.63 L397.00,219.59 L397.50,219.56 L398.00,219.53 L398.50,219.49 L399.00,219.46 L399.50,219.42 L400.00,219.37 L400.50,219.33 L401.00,219.28 L401.50,219.22 L402.00,219.16 L402.50,219.10 L403.00,219.03 L403.50,218.94 L404.00,218.83 L404.50,218.71 L405.00,218.57 L405.50,218.41 L406.00,218.23 L406.50,218.03 L406.80,217.90 L407.00,217.78 L407.50,217.29 L408.00,216.63 L408.50,215.95 L409.00,215.37 L409.50,215.03 L409.70,215.00 L410.00,215.09 L410.50,215.58 L411.00,216.27 L411.50,216.93 L411.90,217.30 L412.00,217.36 L412.50,217.67 L413.00,217.96 L413.50,218.23 L414.00,218.46 L414.50,218.64 L415.00,218.76 L415.50,218.80 L416.00,218.80 L416.50,218.80 L417.00,218.80 L417.50,218.79 L418.00,218.79 L418.50,218.79 L419.00,218.78 L419.50,218.78 L420.00,218.78 L420.50,218.77 L421.00,218.76 L421.50,218.76 L422.00,218.75 L422.50,218.75 L423.00,218.74 L423.50,218.73 L424.00,218.72 L424.50,218.72 L425.00,218.71 L425.50,218.70 L425.70,218.70 L426.00,218.70 L426.50,218.69 L427.00,218.68 L427.50,218.67 L428.00,218.66 L428.50,218.65 L429.00,218.64 L429.50,218.62 L430.00,218.61 L430.50,218.60 L431.00,218.58 L431.50,218.57 L432.00,218.55 L432.50,218.53 L433.00,218.52 L433.50,218.50 L434.00,218.48 L434.50,218.46 L435.00,218.44 L435.50,218.42 L435.90,218.40 L436.00,218.40 L436.50,218.37 L437.00,218.34 L437.50,218.31 L438.00,218.28 L438.50,218.24 L439.00,218.20 L439.50,218.16 L440.00,218.11 L440.50,218.06 L441.00,218.01 L441.50,217.96 L442.00,217.91 L442.50,217.85 L443.00,217.79 L443.50,217.74 L444.00,217.67 L444.50,217.61 L444.60,217.60 L445.00,217.55 L445.50,217.47 L446.00,217.39 L446.50,217.30 L447.00,217.20 L447.50,217.10 L448.00,217.00 L448.50,216.89 L449.00,216.79 L449.50,216.68 L450.00,216.57 L450.50,216.47 L451.00,216.37 L451.50,216.27 L451.90,216.20 L452.00,216.18 L452.50,216.09 L453.00,216.01 L453.50,215.92 L454.00,215.83 L454.50,215.74 L455.00,215.66 L455.50,215.57 L456.00,215.49 L456.50,215.41 L457.00,215.33 L457.50,215.25 L458.00,215.17 L458.50,215.10 L459.00,215.03 L459.20,215.00 L459.50,214.96 L460.00,214.88 L460.50,214.80 L461.00,214.73 L461.50,214.65 L462.00,214.58 L462.50,214.52 L463.00,214.46 L463.50,214.43 L464.00,214.40 L464.30,214.40 L464.50,214.41 L465.00,214.55 L465.50,214.75 L466.00,214.95 L466.20,215.00 L466.50,215.07 L467.00,215.18 L467.50,215.30 L468.00,215.41 L468.50,215.52 L469.00,215.62 L469.50,215.71 L470.00,215.80 L470.50,215.87 L471.00,215.93 L471.50,215.97 L472.00,215.99 L472.40,216.00 L472.50,216.00 L473.00,215.95 L473.50,215.84 L474.00,215.69 L474.50,215.54 L475.00,215.39 L475.50,215.27 L476.00,215.21 L476.20,215.20 L476.50,215.22 L477.00,215.36 L477.50,215.58 L478.00,215.86 L478.50,216.17 L479.00,216.48 L479.50,216.76 L480.00,216.97 L480.10,217.00 L480.50,217.12 L481.00,217.26 L481.50,217.39 L482.00,217.51 L482.50,217.63 L483.00,217.74 L483.50,217.84 L484.00,217.94 L484.50,218.03 L485.00,218.11 L485.50,218.19 L486.00,218.26 L486.30,218.30 L486.50,218.33 L487.00,218.39 L487.50,218.44 L488.00,218.50 L488.50,218.55 L489.00,218.60 L489.50,218.65 L490.00,218.69 L490.50,218.73 L491.00,218.78 L491.50,218.82 L492.00,218.85 L492.50,218.89 L493.00,218.93 L493.50,218.96 L494.00,219.00 L494.50,219.03 L495.00,219.07 L495.50,219.10 L496.00,219.13 L496.50,219.17 L497.00,219.21 L497.50,219.24 L498.00,219.28 L498.50,219.32 L499.00,219.36 L499.50,219.39 L500.00,219.43 L500.50,219.46 L501.00,219.50 L501.50,219.53 L502.00,219.56 L502.50,219.59 L503.00,219.61 L503.50,219.63 L504.00,219.65 L504.50,219.67 L505.00,219.68 L505.50,219.69 L506.00,219.70 L506.40,219.70 L506.50,219.70 L507.00,219.70 L507.50,219.69 L508.00,219.67 L508.50,219.66 L509.00,219.63 L509.50,219.60 L510.00,219.57 L510.50,219.53 L511.00,219.49 L511.50,219.44 L512.00,219.38 L512.50,219.32 L513.00,219.26 L513.50,219.19 L514.00,219.12 L514.10,219.10 L514.50,218.96 L515.00,218.60 L515.50,218.10 L516.00,217.53 L516.50,216.97 L517.00,216.48 L517.50,216.13 L518.00,216.00 L518.50,216.13 L519.00,216.46 L519.50,216.90 L520.00,217.36 L520.50,217.74 L520.60,217.80 L521.00,218.04 L521.50,218.35 L522.00,218.65 L522.50,218.89 L523.00,219.06 L523.40,219.10 L523.50,219.10 L524.00,219.10 L524.50,219.09 L525.00,219.08 L525.50,219.07 L526.00,219.05 L526.50,219.03 L527.00,219.01 L527.50,218.99 L528.00,218.97 L528.50,218.94 L529.00,218.91 L529.50,218.89 L530.00,218.86 L530.50,218.83 L531.00,218.80 L531.50,218.77 L532.00,218.74 L532.50,218.71 L532.60,218.70 L533.00,218.68 L533.50,218.64 L534.00,218.61 L534.50,218.57 L535.00,218.53 L535.50,218.49 L536.00,218.45 L536.50,218.40 L537.00,218.36 L537.50,218.31 L538.00,218.26 L538.50,218.21 L539.00,218.16 L539.50,218.11 L539.60,218.10" stroke="#e8141c"/>
<path d="M36.00,327.30 L36.50,327.34 L37.00,327.37 L37.50,327.39 L38.00,327.42 L38.50,327.44 L39.00,327.45 L39.50,327.47 L40.00,327.48 L40.50,327.48 L41.00,327.49 L41.50,327.49 L42.00,327.50 L42.50,327.50 L43.00,327.50 L43.50,327.50 L43.90,327.50 L44.00,327.50 L44.50,327.49 L45.00,327.47 L45.50,327.44 L46.00,327.40 L46.50,327.35 L47.00,327.29 L47.50,327.23 L48.00,327.16 L48.50,327.09 L49.00,327.02 L49.50,326.95 L50.00,326.87 L50.50,326.80 L51.00,326.73 L51.20,326.70 L51.50,326.66 L52.00,326.57 L52.50,326.47 L53.00,326.36 L53.50,326.25 L54.00,326.13 L54.50,326.01 L55.00,325.89 L55.50,325.78 L56.00,325.68 L56.50,325.59 L57.00,325.51 L57.50,325.45 L58.00,325.41 L58.50,325.40 L59.00,325.40 L59.50,325.40 L60.00,325.40 L60.50,325.35 L61.00,325.21 L61.50,325.00 L62.00,324.75 L62.50,324.46 L63.00,324.18 L63.50,323.90 L63.70,323.80 L64.00,323.65 L64.50,323.42 L65.00,323.17 L65.50,322.91 L66.00,322.62 L66.50,322.30 L66.90,322.00 L67.00,321.92 L67.50,321.44 L68.00,320.85 L68.50,320.19 L69.00,319.49 L69.20,319.20 L69.50,318.75 L70.00,317.94 L70.50,317.05 L71.00,316.10 L71.50,315.10 L72.00,314.06 L72.50,312.97 L73.00,311.79 L73.50,310.47 L73.80,309.60 L74.00,308.98 L74.50,307.23 L75.00,305.09 L75.10,304.60 L75.50,302.06 L76.00,298.36 L76.10,297.70 L76.50,294.91 L76.80,293.60 L77.00,293.31 L77.50,292.87 L77.90,292.60 L78.00,292.53 L78.50,292.24 L79.00,291.94 L79.30,291.70 L79.50,291.47 L80.00,290.64 L80.50,289.61 L80.60,289.40 L81.00,288.60 L81.50,287.60 L82.00,286.40 L82.50,284.77 L82.90,283.00 L83.00,282.20 L83.30,278.90 L83.50,277.64 L84.00,275.11 L84.50,273.15 L85.00,271.33 L85.40,269.70 L85.50,269.25 L86.00,267.00 L86.50,264.73 L87.00,262.41 L87.40,260.50 L87.50,260.01 L88.00,257.46 L88.50,254.86 L89.00,252.40 L89.50,249.68 L90.00,247.07 L90.50,245.90 L91.00,247.24 L91.50,250.12 L91.90,252.40 L92.00,252.89 L92.50,255.46 L93.00,258.07 L93.50,260.50 L94.00,262.91 L94.50,265.33 L95.00,267.39 L95.50,268.70 L96.00,269.27 L96.50,269.73 L96.70,270.00 L97.00,270.65 L97.50,272.28 L98.00,274.19 L98.40,275.60 L98.50,275.92 L99.00,277.56 L99.50,279.21 L100.00,280.74 L100.50,282.07 L100.60,282.30 L101.00,283.18 L101.50,284.21 L102.00,285.12 L102.50,285.86 L102.80,286.20 L103.00,286.38 L103.50,286.69 L104.00,286.97 L104.50,287.40 L105.00,288.41 L105.50,289.90 L105.60,290.20 L106.00,291.61 L106.50,293.57 L106.80,294.60 L107.00,295.21 L107.50,296.75 L108.00,298.01 L108.40,298.60 L108.50,298.68 L109.00,298.97 L109.50,299.16 L110.00,299.32 L110.50,299.56 L110.70,299.70 L111.00,300.01 L111.50,300.79 L112.00,301.74 L112.40,302.50 L112.50,302.69 L113.00,303.72 L113.50,304.83 L114.00,305.91 L114.50,306.84 L114.60,307.00 L115.00,307.58 L115.50,308.25 L116.00,308.85 L116.50,309.40 L117.00,309.92 L117.40,310.30 L117.50,310.39 L118.00,310.83 L118.50,311.24 L119.00,311.62 L119.50,311.98 L120.00,312.33 L120.50,312.68 L121.00,313.03 L121.50,313.40 L121.90,313.70 L122.00,313.78 L122.50,314.18 L123.00,314.59 L123.50,315.00 L124.00,315.42 L124.50,315.85 L125.00,316.27 L125.50,316.68 L126.00,317.08 L126.50,317.47 L127.00,317.85 L127.50,318.20 L128.00,318.59 L128.50,318.99 L129.00,319.33 L129.50,319.49 L129.60,319.50 L130.00,319.38 L130.50,319.00 L131.00,318.53 L131.40,318.20 L131.50,318.13 L132.00,317.71 L132.50,317.37 L132.80,317.30 L133.00,317.44 L133.50,318.42 L133.70,318.80 L134.00,319.27 L134.50,320.07 L135.00,320.84 L135.50,321.50 L136.00,322.00 L136.50,322.38 L137.00,322.71 L137.50,323.01 L138.00,323.27 L138.50,323.48 L139.00,323.65 L139.20,323.70 L139.50,323.77 L140.00,323.87 L140.50,323.95 L141.00,324.02 L141.50,324.09 L142.00,324.16 L142.50,324.23 L142.90,324.30 L143.00,324.32 L143.50,324.43 L144.00,324.56 L144.50,324.70 L145.00,324.85 L145.50,324.99 L146.00,325.11 L146.50,325.21 L147.00,325.28 L147.50,325.30 L148.00,325.11 L148.50,324.68 L149.00,324.17 L149.30,323.90 L149.50,323.72 L150.00,323.21 L150.50,322.84 L150.70,322.80 L151.00,322.96 L151.50,323.64 L152.00,324.30 L152.50,324.77 L153.00,325.17 L153.40,325.30 L153.50,325.28 L154.00,324.82 L154.50,323.94 L155.00,322.98 L155.30,322.50 L155.50,322.20 L156.00,321.37 L156.50,320.61 L157.00,320.21 L157.10,320.20 L157.50,320.31 L158.00,320.66 L158.50,321.10 L159.00,321.64 L159.50,322.33 L160.00,323.03 L160.30,323.40 L160.50,323.64 L161.00,324.29 L161.50,324.93 L162.00,325.44 L162.50,325.69 L162.60,325.70 L163.00,325.70 L163.50,325.70 L164.00,325.70 L164.50,325.70 L165.00,325.70 L165.50,325.71 L166.00,325.74 L166.50,325.78 L167.00,325.83 L167.50,325.87 L168.00,325.92 L168.50,325.96 L169.00,325.99 L169.50,326.00 L170.00,325.98 L170.50,325.91 L171.00,325.81 L171.50,325.68 L172.00,325.51 L172.30,325.40 L172.50,325.28 L173.00,324.68 L173.50,323.90 L174.00,323.20 L174.50,322.64 L175.00,322.10 L175.50,321.65 L175.70,321.50 L176.00,321.28 L176.50,320.97 L176.80,320.90 L177.00,320.94 L177.50,321.30 L178.00,321.85 L178.50,322.40 L179.00,322.91 L179.50,323.47 L180.00,324.01 L180.50,324.46 L180.70,324.60 L181.00,324.79 L181.50,325.11 L182.00,325.33 L182.40,325.40 L182.50,325.39 L183.00,324.98 L183.50,324.20 L184.00,323.35 L184.10,323.20 L184.50,322.62 L185.00,321.86 L185.50,320.89 L185.70,320.40 L186.00,319.45 L186.50,317.18 L186.90,314.80 L187.00,314.04 L187.50,308.87 L187.60,308.00 L188.00,304.77 L188.20,304.10 L188.50,305.40 L188.80,308.00 L189.00,310.44 L189.40,315.90 L189.50,316.75 L190.00,320.45 L190.50,322.90 L190.60,323.20 L191.00,324.18 L191.50,325.06 L191.90,325.40 L192.00,325.44 L192.50,325.60 L193.00,325.73 L193.50,325.84 L194.00,325.92 L194.50,325.97 L195.00,326.00 L195.30,326.00 L195.50,326.00 L196.00,326.00 L196.50,326.00 L197.00,326.00 L197.50,326.00 L198.00,326.00 L198.50,326.00 L199.00,326.00 L199.50,326.00 L200.00,326.00 L200.50,326.00 L200.90,326.00 L201.00,326.00 L201.50,325.98 L202.00,325.95 L202.50,325.89 L203.00,325.83 L203.50,325.75 L204.00,325.66 L204.50,325.57 L205.00,325.48 L205.40,325.40 L205.50,325.38 L206.00,325.28 L206.50,325.16 L207.00,325.03 L207.50,324.87 L208.00,324.68 L208.20,324.60 L208.50,324.42 L209.00,323.95 L209.50,323.48 L210.00,323.21 L210.10,323.20 L210.50,323.40 L211.00,323.92 L211.50,324.30 L212.00,324.43 L212.50,324.54 L213.00,324.63 L213.50,324.70 L214.00,324.76 L214.50,324.79 L215.00,324.80 L215.50,324.75 L216.00,324.61 L216.50,324.39 L217.00,324.11 L217.50,323.77 L218.00,323.40 L218.50,323.01 L219.00,322.61 L219.50,322.21 L219.90,321.90 L220.00,321.82 L220.50,321.43 L221.00,321.00 L221.50,320.54 L222.00,320.05 L222.50,319.54 L223.00,319.00 L223.50,318.43 L224.00,317.84 L224.20,317.60 L224.50,317.22 L225.00,316.56 L225.50,315.84 L226.00,315.08 L226.50,314.28 L227.00,313.46 L227.50,312.62 L227.80,312.10 L228.00,311.75 L228.50,310.88 L229.00,309.97 L229.50,309.03 L230.00,308.02 L230.50,306.93 L230.90,306.00 L231.00,305.75 L231.50,304.40 L232.00,302.88 L232.50,301.28 L233.00,299.65 L233.30,298.70 L233.50,298.05 L234.00,296.33 L234.50,294.60 L235.00,293.10 L235.20,292.60 L235.50,291.86 L236.00,291.10 L236.50,291.93 L237.00,293.38 L237.20,293.80 L237.50,294.29 L238.00,294.92 L238.20,295.00 L238.50,294.72 L239.00,293.67 L239.40,293.20 L239.50,293.22 L240.00,293.69 L240.50,294.59 L240.70,295.00 L241.00,295.89 L241.50,298.09 L241.90,299.90 L242.00,300.31 L242.50,302.47 L243.00,304.57 L243.40,306.00 L243.50,306.31 L244.00,307.82 L244.50,309.20 L245.00,310.40 L245.50,311.34 L245.60,311.50 L246.00,312.07 L246.50,312.71 L247.00,313.27 L247.50,313.76 L248.00,314.18 L248.50,314.54 L248.60,314.60 L249.00,314.83 L249.50,315.08 L250.00,315.29 L250.50,315.49 L251.00,315.69 L251.50,315.90 L251.70,316.00 L252.00,316.16 L252.50,316.45 L253.00,316.75 L253.50,317.04 L254.00,317.26 L254.10,317.30 L254.50,317.43 L255.00,317.57 L255.50,317.69 L256.00,317.80 L256.50,317.91 L257.00,318.01 L257.50,318.13 L257.80,318.20 L258.00,318.25 L258.50,318.41 L259.00,318.59 L259.50,318.77 L260.00,318.93 L260.50,319.07 L261.00,319.17 L261.50,319.20 L262.00,319.20 L262.50,319.20 L263.00,319.20 L263.50,319.20 L264.00,319.20 L264.50,319.20 L265.00,319.20 L265.50,319.20 L266.00,319.20 L266.30,319.20 L266.50,319.18 L267.00,318.99 L267.50,318.67 L268.00,318.28 L268.50,317.93 L269.00,317.67 L269.40,317.60 L269.50,317.60 L270.00,317.72 L270.50,317.96 L271.00,318.27 L271.50,318.61 L272.00,318.94 L272.50,319.20 L273.00,319.42 L273.50,319.63 L274.00,319.83 L274.50,319.99 L275.00,320.10 L275.50,320.18 L276.00,320.26 L276.50,320.33 L277.00,320.39 L277.50,320.45 L278.00,320.51 L278.50,320.56 L279.00,320.60 L279.50,320.64 L280.00,320.67 L280.50,320.69 L281.00,320.70 L281.40,320.70 L281.50,320.70 L282.00,320.67 L282.50,320.61 L283.00,320.51 L283.50,320.39 L284.00,320.25 L284.50,320.09 L285.00,319.92 L285.50,319.75 L286.00,319.57 L286.50,319.40 L287.00,319.23 L287.50,319.04 L288.00,318.84 L288.50,318.62 L289.00,318.39 L289.50,318.14 L290.00,317.86 L290.50,317.57 L291.00,317.25 L291.50,316.90 L292.00,316.47 L292.50,315.94 L293.00,315.31 L293.50,314.63 L294.00,313.91 L294.50,313.18 L295.00,312.47 L295.50,311.80 L296.00,311.20 L296.50,310.67 L297.00,310.18 L297.50,309.71 L298.00,309.26 L298.50,308.79 L299.00,308.29 L299.50,307.75 L299.80,307.40 L300.00,307.15 L300.50,306.47 L301.00,305.72 L301.50,304.93 L302.00,304.13 L302.40,303.50 L302.50,303.33 L303.00,302.33 L303.50,301.28 L304.00,300.54 L304.30,300.40 L304.50,300.46 L305.00,301.06 L305.50,302.04 L306.00,303.12 L306.20,303.50 L306.50,304.07 L307.00,305.14 L307.50,306.26 L308.00,307.34 L308.50,308.28 L308.70,308.60 L309.00,309.03 L309.50,309.70 L310.00,310.31 L310.50,310.87 L311.00,311.39 L311.50,311.90 L312.00,312.41 L312.50,312.93 L313.00,313.47 L313.20,313.70 L313.50,314.05 L314.00,314.65 L314.50,315.26 L315.00,315.87 L315.50,316.48 L316.00,317.08 L316.50,317.65 L317.00,318.20 L317.50,318.75 L318.00,319.32 L318.50,319.88 L319.00,320.40 L319.50,320.85 L320.00,321.20 L320.20,321.30 L320.50,321.43 L321.00,321.62 L321.50,321.77 L322.00,321.91 L322.50,322.03 L323.00,322.14 L323.50,322.26 L324.00,322.40 L324.50,322.56 L324.60,322.60 L325.00,322.76 L325.50,322.99 L326.00,323.25 L326.50,323.52 L327.00,323.81 L327.50,324.10 L328.00,324.38 L328.50,324.65 L329.00,324.90 L329.50,325.12 L329.70,325.20 L330.00,325.31 L330.50,325.50 L331.00,325.68 L331.50,325.86 L332.00,326.03 L332.50,326.19 L333.00,326.35 L333.50,326.50 L334.00,326.64 L334.50,326.77 L335.00,326.88 L335.50,326.99 L336.00,327.08 L336.10,327.10 L336.50,327.17 L337.00,327.24 L337.50,327.32 L338.00,327.38 L338.50,327.45 L339.00,327.51 L339.50,327.57 L340.00,327.63 L340.50,327.68 L341.00,327.73 L341.50,327.78 L342.00,327.83 L342.50,327.87 L343.00,327.92 L343.50,327.96 L344.00,328.01 L344.50,328.05 L345.00,328.10 L345.50,328.15 L346.00,328.20 L346.50,328.25 L347.00,328.31 L347.50,328.36 L348.00,328.40 L348.50,328.44 L349.00,328.47 L349.50,328.49 L350.00,328.50 L350.50,328.50 L351.00,328.49 L351.50,328.48 L352.00,328.46 L352.50,328.44 L353.00,328.42 L353.50,328.40 L354.00,328.38 L354.50,328.35 L355.00,328.33 L355.50,328.30 L356.00,328.28 L356.50,328.26 L357.00,328.24 L357.50,328.22 L358.00,328.21 L358.50,328.20 L359.00,328.20 L359.10,328.20 L359.50,328.20 L360.00,328.21 L360.50,328.23 L361.00,328.26 L361.50,328.29 L362.00,328.32 L362.50,328.36 L363.00,328.40 L363.50,328.44 L364.00,328.48 L364.50,328.52 L365.00,328.56 L365.50,328.59 L366.00,328.63 L366.50,328.65 L367.00,328.68 L367.50,328.69 L368.00,328.70 L368.20,328.70 L368.50,328.70 L369.00,328.70 L369.50,328.70 L370.00,328.70 L370.50,328.70 L371.00,328.70 L371.50,328.70 L372.00,328.70 L372.50,328.70 L373.00,328.70 L373.50,328.70 L374.00,328.70 L374.50,328.70 L375.00,328.70 L375.50,328.70 L376.00,328.70 L376.50,328.70 L377.00,328.70 L377.50,328.70 L378.00,328.70 L378.50,328.70 L379.00,328.70 L379.50,328.70 L380.00,328.70 L380.50,328.70 L380.90,328.70 L381.00,328.70 L381.50,328.71 L382.00,328.72 L382.50,328.73 L383.00,328.75 L383.50,328.77 L384.00,328.79 L384.50,328.80 L385.00,328.80 L385.50,328.80 L386.00,328.79 L386.50,328.79 L387.00,328.78 L387.50,328.77 L388.00,328.75 L388.50,328.74 L389.00,328.72 L389.50,328.70 L390.00,328.68 L390.50,328.66 L391.00,328.63 L391.50,328.61 L392.00,328.59 L392.50,328.56 L393.00,328.54 L393.50,328.51 L393.70,328.50 L394.00,328.48 L394.50,328.46 L395.00,328.43 L395.50,328.40 L396.00,328.37 L396.50,328.34 L397.00,328.30 L397.50,328.26 L398.00,328.22 L398.50,328.18 L399.00,328.13 L399.50,328.08 L400.00,328.03 L400.50,327.98 L401.00,327.92 L401.50,327.86 L402.00,327.79 L402.50,327.72 L403.00,327.64 L403.50,327.57 L403.90,327.50 L404.00,327.48 L404.50,327.38 L405.00,327.25 L405.50,327.09 L406.00,326.90 L406.50,326.69 L407.00,326.45 L407.10,326.40 L407.50,326.09 L408.00,325.51 L408.50,324.85 L409.00,324.28 L409.50,323.93 L409.70,323.90 L410.00,324.01 L410.50,324.53 L411.00,325.26 L411.50,325.90 L412.00,326.46 L412.50,327.08 L413.00,327.65 L413.50,328.08 L414.00,328.29 L414.10,328.30 L414.50,328.30 L415.00,328.29 L415.50,328.29 L416.00,328.28 L416.50,328.26 L417.00,328.25 L417.50,328.23 L418.00,328.22 L418.50,328.20 L419.00,328.18 L419.50,328.16 L420.00,328.15 L420.50,328.13 L421.00,328.12 L421.50,328.11 L422.00,328.10 L422.50,328.10 L422.80,328.10 L423.00,328.10 L423.50,328.10 L424.00,328.10 L424.50,328.10 L425.00,328.10 L425.50,328.10 L426.00,328.10 L426.50,328.10 L427.00,328.10 L427.50,328.10 L428.00,328.10 L428.50,328.10 L429.00,328.10 L429.50,328.10 L430.00,328.10 L430.50,328.10 L431.00,328.10 L431.50,328.10 L432.00,328.10 L432.50,328.10 L433.00,328.10 L433.50,328.10 L434.00,328.10 L434.50,328.09 L435.00,328.09 L435.50,328.08 L436.00,328.07 L436.50,328.06 L437.00,328.05 L437.50,328.04 L438.00,328.02 L438.50,328.01 L439.00,327.99 L439.50,327.97 L440.00,327.96 L440.50,327.93 L441.00,327.91 L441.50,327.89 L442.00,327.86 L442.50,327.84 L443.00,327.81 L443.20,327.80 L443.50,327.78 L444.00,327.72 L444.50,327.63 L445.00,327.52 L445.50,327.40 L446.00,327.26 L446.50,327.12 L447.00,326.97 L447.50,326.82 L448.00,326.67 L448.50,326.53 L449.00,326.40 L449.50,326.28 L450.00,326.15 L450.50,326.02 L451.00,325.90 L451.50,325.77 L452.00,325.64 L452.50,325.51 L453.00,325.38 L453.50,325.25 L454.00,325.13 L454.50,325.01 L455.00,324.89 L455.50,324.77 L456.00,324.66 L456.30,324.60 L456.50,324.56 L457.00,324.44 L457.50,324.33 L458.00,324.20 L458.50,324.08 L459.00,323.96 L459.50,323.84 L460.00,323.72 L460.50,323.61 L461.00,323.51 L461.50,323.42 L462.00,323.34 L462.50,323.28 L463.00,323.23 L463.50,323.21 L463.90,323.20 L464.00,323.20 L464.50,323.24 L465.00,323.33 L465.50,323.45 L466.00,323.60 L466.50,323.77 L467.00,323.95 L467.50,324.12 L468.00,324.29 L468.50,324.43 L469.00,324.55 L469.30,324.60 L469.50,324.63 L470.00,324.69 L470.50,324.74 L471.00,324.79 L471.50,324.83 L472.00,324.86 L472.50,324.90 L473.00,324.94 L473.50,324.98 L474.00,325.02 L474.50,325.07 L475.00,325.13 L475.50,325.20 L476.00,325.30 L476.50,325.43 L477.00,325.58 L477.50,325.76 L478.00,325.94 L478.50,326.12 L479.00,326.29 L479.50,326.45 L480.00,326.58 L480.10,326.60 L480.50,326.68 L481.00,326.78 L481.50,326.88 L482.00,326.97 L482.50,327.06 L483.00,327.15 L483.50,327.23 L484.00,327.30 L484.50,327.38 L485.00,327.45 L485.50,327.52 L486.00,327.58 L486.50,327.65 L487.00,327.71 L487.50,327.77 L487.80,327.80 L488.00,327.82 L488.50,327.88 L489.00,327.94 L489.50,328.00 L490.00,328.06 L490.50,328.12 L491.00,328.17 L491.50,328.23 L492.00,328.28 L492.50,328.34 L493.00,328.38 L493.50,328.43 L494.00,328.47 L494.50,328.51 L495.00,328.54 L495.50,328.56 L496.00,328.58 L496.50,328.59 L497.00,328.60 L497.10,328.60 L497.50,328.60 L498.00,328.60 L498.50,328.60 L499.00,328.60 L499.50,328.60 L500.00,328.60 L500.50,328.60 L501.00,328.60 L501.50,328.60 L502.00,328.60 L502.50,328.60 L503.00,328.60 L503.50,328.60 L504.00,328.60 L504.50,328.60 L505.00,328.60 L505.50,328.60 L506.00,328.60 L506.40,328.60 L506.50,328.60 L507.00,328.60 L507.50,328.59 L508.00,328.58 L508.50,328.56 L509.00,328.54 L509.50,328.52 L510.00,328.49 L510.50,328.46 L511.00,328.42 L511.50,328.38 L512.00,328.33 L512.50,328.29 L513.00,328.23 L513.50,328.17 L514.00,328.11 L514.10,328.10 L514.50,327.98 L515.00,327.68 L515.50,327.25 L516.00,326.74 L516.50,326.22 L517.00,325.73 L517.50,325.33 L518.00,325.07 L518.40,325.00 L518.50,325.01 L519.00,325.23 L519.50,325.68 L520.00,326.22 L520.50,326.74 L521.00,327.10 L521.50,327.34 L522.00,327.58 L522.50,327.80 L523.00,328.01 L523.50,328.17 L524.00,328.30 L524.50,328.38 L524.90,328.40 L525.00,328.40 L525.50,328.40 L526.00,328.40 L526.50,328.39 L527.00,328.38 L527.50,328.37 L528.00,328.36 L528.50,328.35 L529.00,328.34 L529.50,328.32 L530.00,328.30 L530.50,328.28 L531.00,328.26 L531.50,328.24 L532.00,328.22 L532.50,328.19 L533.00,328.17 L533.50,328.14 L534.00,328.11 L534.20,328.10 L534.50,328.08 L535.00,328.03 L535.50,327.97 L536.00,327.89 L536.50,327.80 L537.00,327.70 L537.50,327.60 L538.00,327.48 L538.50,327.37 L539.00,327.25 L539.50,327.12 L539.60,327.10" stroke="#e80ae8"/>
<path d="M36.00,436.00 L36.50,435.96 L37.00,435.93 L37.50,435.91 L38.00,435.88 L38.50,435.86 L39.00,435.85 L39.50,435.83 L40.00,435.82 L40.50,435.82 L41.00,435.81 L41.50,435.81 L42.00,435.80 L42.50,435.80 L43.00,435.80 L43.50,435.80 L43.90,435.80 L44.00,435.80 L44.50,435.81 L45.00,435.84 L45.50,435.87 L46.00,435.92 L46.50,435.97 L47.00,436.02 L47.50,436.07 L48.00,436.12 L48.50,436.16 L49.00,436.18 L49.50,436.20 L49.70,436.20 L50.00,436.20 L50.50,436.18 L51.00,436.14 L51.50,436.09 L52.00,436.03 L52.50,435.96 L53.00,435.88 L53.50,435.80 L54.00,435.72 L54.50,435.64 L54.80,435.60 L55.00,435.57 L55.50,435.49 L56.00,435.41 L56.50,435.32 L57.00,435.22 L57.50,435.12 L58.00,435.02 L58.50,434.92 L59.00,434.81 L59.50,434.71 L60.00,434.60 L60.50,434.50 L61.00,434.40 L61.50,434.30 L62.00,434.20 L62.50,434.09 L63.00,433.98 L63.50,433.85 L64.00,433.70 L64.50,433.54 L64.60,433.50 L65.00,433.33 L65.50,433.08 L66.00,432.76 L66.50,432.41 L67.00,432.01 L67.50,431.57 L68.00,431.10 L68.30,430.80 L68.50,430.59 L69.00,430.00 L69.50,429.32 L70.00,428.54 L70.50,427.66 L71.00,426.70 L71.50,425.54 L72.00,424.15 L72.50,422.58 L72.80,421.60 L73.00,420.93 L73.50,419.12 L74.00,417.04 L74.20,416.10 L74.50,414.41 L75.00,411.20 L75.10,410.60 L75.50,408.31 L76.00,405.60 L76.10,405.10 L76.50,402.79 L76.80,401.90 L77.00,401.93 L77.50,402.18 L77.90,402.30 L78.00,402.30 L78.50,402.22 L79.00,402.04 L79.30,401.90 L79.50,401.74 L80.00,400.91 L80.50,399.82 L80.60,399.60 L81.00,398.74 L81.50,397.50 L82.00,395.90 L82.50,393.32 L83.00,389.68 L83.50,385.60 L84.00,381.70 L84.30,379.70 L84.50,378.52 L85.00,375.77 L85.50,373.20 L86.00,370.64 L86.40,368.50 L86.50,367.94 L87.00,365.11 L87.50,362.22 L88.00,359.30 L88.50,356.22 L89.00,353.23 L89.20,352.20 L89.50,350.61 L90.00,348.23 L90.30,347.70 L90.50,348.00 L91.00,350.44 L91.30,352.20 L91.50,353.38 L92.00,356.90 L92.50,360.40 L93.00,363.43 L93.50,366.28 L93.90,368.50 L94.00,369.05 L94.50,371.72 L95.00,374.32 L95.50,376.89 L96.00,379.48 L96.10,380.00 L96.50,382.21 L97.00,385.07 L97.50,387.69 L97.80,389.00 L98.00,389.77 L98.50,391.61 L99.00,393.26 L99.50,394.64 L100.00,395.70 L100.50,396.53 L101.00,397.27 L101.50,397.88 L102.00,398.32 L102.30,398.50 L102.50,398.58 L103.00,398.73 L103.50,398.85 L104.00,399.00 L104.50,399.16 L105.00,399.38 L105.30,399.60 L105.50,400.08 L106.00,402.64 L106.20,403.50 L106.50,404.46 L107.00,405.89 L107.50,407.14 L108.00,408.27 L108.40,409.10 L108.50,409.30 L109.00,410.26 L109.50,411.15 L110.00,411.98 L110.50,412.77 L111.00,413.52 L111.50,414.26 L111.80,414.70 L112.00,414.99 L112.50,415.72 L113.00,416.43 L113.50,417.12 L114.00,417.78 L114.50,418.40 L115.00,418.98 L115.20,419.20 L115.50,419.52 L116.00,420.02 L116.50,420.50 L117.00,420.96 L117.50,421.39 L118.00,421.82 L118.50,422.23 L119.00,422.63 L119.50,423.02 L119.60,423.10 L120.00,423.41 L120.50,423.79 L121.00,424.16 L121.50,424.53 L122.00,424.88 L122.50,425.23 L123.00,425.57 L123.50,425.91 L124.00,426.23 L124.50,426.56 L125.00,426.87 L125.20,427.00 L125.50,427.20 L126.00,427.55 L126.50,427.93 L127.00,428.31 L127.50,428.68 L128.00,429.02 L128.50,429.32 L129.00,429.56 L129.50,429.72 L130.00,429.80 L130.10,429.80 L130.50,429.74 L131.00,429.55 L131.50,429.36 L131.90,429.30 L132.00,429.31 L132.50,429.59 L133.00,430.05 L133.30,430.30 L133.50,430.44 L134.00,430.81 L134.50,431.19 L135.00,431.54 L135.50,431.86 L136.00,432.10 L136.50,432.29 L137.00,432.45 L137.50,432.59 L138.00,432.72 L138.50,432.84 L139.00,432.95 L139.20,433.00 L139.50,433.07 L140.00,433.18 L140.50,433.29 L141.00,433.39 L141.50,433.49 L142.00,433.58 L142.50,433.67 L143.00,433.76 L143.50,433.85 L143.80,433.90 L144.00,433.94 L144.50,434.03 L145.00,434.13 L145.50,434.23 L146.00,434.33 L146.50,434.42 L147.00,434.50 L147.50,434.55 L148.00,434.59 L148.40,434.60 L148.50,434.60 L149.00,434.60 L149.50,434.60 L150.00,434.60 L150.50,434.60 L151.00,434.60 L151.10,434.60 L151.50,434.66 L152.00,434.84 L152.50,435.06 L153.00,435.24 L153.40,435.30 L153.50,435.30 L154.00,435.15 L154.50,434.87 L155.00,434.56 L155.30,434.40 L155.50,434.29 L156.00,433.97 L156.50,433.67 L157.00,433.51 L157.10,433.50 L157.50,433.54 L158.00,433.68 L158.50,433.88 L159.00,434.07 L159.40,434.20 L159.50,434.23 L160.00,434.36 L160.50,434.49 L161.00,434.61 L161.50,434.71 L162.00,434.79 L162.10,434.80 L162.50,434.84 L163.00,434.89 L163.50,434.93 L164.00,434.97 L164.50,434.99 L165.00,435.00 L165.50,434.99 L166.00,434.96 L166.50,434.91 L167.00,434.85 L167.50,434.78 L168.00,434.70 L168.50,434.62 L169.00,434.54 L169.50,434.46 L169.90,434.40 L170.00,434.39 L170.50,434.32 L171.00,434.25 L171.50,434.18 L172.00,434.11 L172.50,434.03 L173.00,433.93 L173.50,433.82 L173.60,433.80 L174.00,433.66 L174.50,433.40 L175.00,433.12 L175.50,432.89 L176.00,432.80 L176.50,432.92 L177.00,433.17 L177.50,433.41 L177.80,433.50 L178.00,433.53 L178.50,433.61 L179.00,433.67 L179.50,433.73 L180.00,433.77 L180.50,433.79 L180.90,433.80 L181.00,433.80 L181.50,433.76 L182.00,433.66 L182.50,433.52 L183.00,433.33 L183.30,433.20 L183.50,433.08 L184.00,432.50 L184.50,431.54 L184.60,431.30 L185.00,429.46 L185.50,425.52 L185.80,422.80 L186.00,420.85 L186.50,414.86 L186.80,410.60 L187.00,407.11 L187.40,399.60 L187.50,397.94 L188.00,391.60 L188.50,396.80 L188.60,398.30 L189.00,406.50 L189.20,410.60 L189.50,415.81 L190.00,423.02 L190.10,424.00 L190.50,427.25 L191.00,430.26 L191.30,431.30 L191.50,431.75 L192.00,432.71 L192.50,433.40 L193.00,433.77 L193.10,433.80 L193.50,433.90 L194.00,434.00 L194.50,434.08 L195.00,434.15 L195.50,434.21 L196.00,434.25 L196.50,434.29 L197.00,434.33 L197.50,434.36 L198.00,434.40 L198.50,434.44 L199.00,434.48 L199.50,434.52 L200.00,434.56 L200.50,434.59 L201.00,434.63 L201.50,434.66 L202.00,434.69 L202.50,434.72 L203.00,434.74 L203.50,434.77 L204.00,434.78 L204.50,434.79 L205.00,434.80 L205.30,434.80 L205.50,434.80 L206.00,434.76 L206.50,434.69 L207.00,434.60 L207.50,434.50 L208.00,434.38 L208.50,434.27 L209.00,434.17 L209.50,434.08 L210.00,434.02 L210.20,434.00 L210.50,433.98 L211.00,433.96 L211.50,433.94 L212.00,433.93 L212.50,433.91 L213.00,433.90 L213.50,433.89 L214.00,433.86 L214.50,433.84 L215.00,433.80 L215.50,433.69 L216.00,433.46 L216.50,433.17 L217.00,432.85 L217.40,432.60 L217.50,432.54 L218.00,432.24 L218.50,431.93 L219.00,431.60 L219.50,431.26 L220.00,430.89 L220.50,430.51 L221.00,430.10 L221.50,429.66 L222.00,429.19 L222.30,428.90 L222.50,428.69 L223.00,428.14 L223.50,427.52 L224.00,426.85 L224.50,426.14 L225.00,425.37 L225.50,424.57 L226.00,423.73 L226.50,422.86 L227.00,421.97 L227.20,421.60 L227.50,421.04 L228.00,420.05 L228.50,419.01 L229.00,417.89 L229.50,416.71 L230.00,415.45 L230.50,414.12 L230.90,413.00 L231.00,412.71 L231.50,411.10 L232.00,409.31 L232.50,407.42 L233.00,405.51 L233.30,404.40 L233.50,403.62 L234.00,401.33 L234.50,398.88 L235.00,396.65 L235.50,395.03 L236.00,394.40 L236.50,395.17 L237.00,396.66 L237.50,397.66 L237.60,397.70 L238.00,397.47 L238.50,396.80 L239.00,396.13 L239.40,395.90 L239.50,395.94 L240.00,397.18 L240.50,399.64 L241.00,402.64 L241.30,404.40 L241.50,405.68 L242.00,409.64 L242.50,413.00 L243.00,415.16 L243.50,416.95 L244.00,418.39 L244.30,419.10 L244.50,419.52 L245.00,420.51 L245.50,421.41 L246.00,422.21 L246.50,422.92 L247.00,423.56 L247.50,424.11 L248.00,424.60 L248.50,425.04 L249.00,425.45 L249.50,425.83 L250.00,426.19 L250.50,426.52 L251.00,426.82 L251.50,427.09 L252.00,427.33 L252.50,427.55 L252.90,427.70 L253.00,427.74 L253.50,427.90 L254.00,428.06 L254.50,428.21 L255.00,428.34 L255.50,428.46 L256.00,428.58 L256.50,428.68 L257.00,428.77 L257.50,428.86 L257.80,428.90 L258.00,428.93 L258.50,429.00 L259.00,429.07 L259.50,429.14 L260.00,429.21 L260.50,429.27 L261.00,429.33 L261.50,429.38 L262.00,429.42 L262.50,429.45 L263.00,429.48 L263.50,429.50 L263.90,429.50 L264.00,429.50 L264.50,429.47 L265.00,429.41 L265.50,429.33 L266.00,429.22 L266.50,429.10 L267.00,428.97 L267.50,428.83 L268.00,428.70 L268.50,428.58 L269.00,428.47 L269.50,428.39 L270.00,428.33 L270.50,428.30 L270.60,428.30 L271.00,428.34 L271.50,428.47 L272.00,428.68 L272.50,428.94 L273.00,429.23 L273.50,429.51 L274.00,429.78 L274.50,429.99 L274.90,430.10 L275.00,430.12 L275.50,430.23 L276.00,430.33 L276.50,430.43 L277.00,430.53 L277.50,430.62 L278.00,430.70 L278.50,430.78 L279.00,430.84 L279.50,430.90 L280.00,430.94 L280.50,430.98 L281.00,431.00 L281.40,431.00 L281.50,431.00 L282.00,431.00 L282.50,430.98 L283.00,430.97 L283.50,430.94 L284.00,430.91 L284.50,430.87 L285.00,430.83 L285.50,430.78 L286.00,430.73 L286.50,430.67 L287.00,430.60 L287.50,430.53 L287.70,430.50 L288.00,430.44 L288.50,430.27 L289.00,430.02 L289.50,429.72 L290.00,429.37 L290.50,429.00 L291.00,428.60 L291.50,428.20 L292.00,427.77 L292.50,427.26 L293.00,426.71 L293.50,426.11 L294.00,425.48 L294.50,424.84 L295.00,424.20 L295.40,423.70 L295.50,423.58 L296.00,422.96 L296.50,422.35 L297.00,421.72 L297.50,421.08 L298.00,420.41 L298.50,419.69 L299.00,418.92 L299.20,418.60 L299.50,418.09 L300.00,417.19 L300.50,416.20 L301.00,415.13 L301.50,413.98 L301.70,413.50 L302.00,412.68 L302.50,411.08 L303.00,409.58 L303.20,409.10 L303.50,408.41 L304.00,407.42 L304.30,407.20 L304.50,407.29 L305.00,408.05 L305.50,409.10 L306.00,410.28 L306.50,411.72 L307.00,413.18 L307.40,414.20 L307.50,414.43 L308.00,415.53 L308.50,416.57 L309.00,417.54 L309.50,418.45 L310.00,419.30 L310.50,420.08 L311.00,420.82 L311.50,421.51 L312.00,422.17 L312.50,422.81 L313.00,423.45 L313.20,423.70 L313.50,424.08 L314.00,424.72 L314.50,425.35 L315.00,425.97 L315.50,426.58 L316.00,427.15 L316.50,427.70 L317.00,428.20 L317.50,428.69 L318.00,429.18 L318.50,429.66 L319.00,430.11 L319.50,430.52 L320.00,430.88 L320.50,431.16 L320.80,431.30 L321.00,431.38 L321.50,431.55 L322.00,431.69 L322.50,431.82 L323.00,431.93 L323.50,432.04 L324.00,432.14 L324.50,432.24 L325.00,432.36 L325.50,432.48 L325.90,432.60 L326.00,432.63 L326.50,432.80 L327.00,432.99 L327.50,433.19 L328.00,433.41 L328.50,433.63 L329.00,433.85 L329.50,434.08 L330.00,434.30 L330.50,434.52 L331.00,434.73 L331.50,434.92 L332.00,435.10 L332.30,435.20 L332.50,435.26 L333.00,435.41 L333.50,435.56 L334.00,435.69 L334.50,435.83 L335.00,435.96 L335.50,436.08 L336.00,436.20 L336.50,436.32 L337.00,436.44 L337.50,436.55 L338.00,436.66 L338.50,436.78 L338.60,436.80 L339.00,436.89 L339.50,437.02 L340.00,437.15 L340.50,437.29 L341.00,437.42 L341.50,437.55 L342.00,437.68 L342.50,437.79 L343.00,437.90 L343.50,437.98 L344.00,438.04 L344.50,438.09 L345.00,438.10 L345.50,438.10 L346.00,438.09 L346.50,438.08 L347.00,438.06 L347.50,438.04 L348.00,438.02 L348.50,437.99 L349.00,437.97 L349.50,437.94 L350.00,437.91 L350.50,437.89 L351.00,437.87 L351.50,437.84 L352.00,437.83 L352.50,437.81 L353.00,437.80 L353.50,437.80 L353.60,437.80 L354.00,437.80 L354.50,437.81 L355.00,437.83 L355.50,437.85 L356.00,437.87 L356.50,437.90 L357.00,437.93 L357.50,437.96 L358.00,437.99 L358.50,438.02 L359.00,438.06 L359.50,438.09 L360.00,438.12 L360.50,438.14 L361.00,438.16 L361.50,438.18 L362.00,438.19 L362.50,438.20 L362.70,438.20 L363.00,438.20 L363.50,438.20 L364.00,438.20 L364.50,438.20 L365.00,438.20 L365.50,438.20 L366.00,438.20 L366.50,438.20 L367.00,438.20 L367.50,438.20 L368.00,438.20 L368.50,438.20 L369.00,438.20 L369.50,438.20 L370.00,438.20 L370.50,438.20 L371.00,438.20 L371.50,438.20 L372.00,438.20 L372.50,438.20 L373.00,438.20 L373.50,438.20 L374.00,438.20 L374.50,438.20 L375.00,438.20 L375.50,438.20 L376.00,438.20 L376.50,438.20 L377.00,438.20 L377.30,438.20 L377.50,438.20 L378.00,438.19 L378.50,438.18 L379.00,438.15 L379.50,438.13 L380.00,438.09 L380.50,438.05 L381.00,438.01 L381.50,437.97 L382.00,437.93 L382.50,437.89 L383.00,437.84 L383.50,437.80 L384.00,437.76 L384.50,437.73 L385.00,437.70 L385.50,437.67 L386.00,437.65 L386.50,437.63 L387.00,437.61 L387.50,437.59 L388.00,437.57 L388.50,437.55 L389.00,437.53 L389.50,437.51 L390.00,437.49 L390.50,437.47 L391.00,437.45 L391.50,437.43 L392.00,437.40 L392.50,437.38 L393.00,437.35 L393.50,437.31 L393.70,437.30 L394.00,437.28 L394.50,437.24 L395.00,437.19 L395.50,437.13 L396.00,437.07 L396.50,437.01 L397.00,436.94 L397.50,436.86 L398.00,436.79 L398.50,436.71 L399.00,436.63 L399.50,436.55 L400.00,436.46 L400.50,436.38 L401.00,436.30 L401.50,436.22 L402.00,436.15 L402.50,436.09 L403.00,436.02 L403.50,435.94 L404.00,435.86 L404.50,435.76 L405.00,435.64 L405.50,435.50 L406.00,435.34 L406.10,435.30 L406.50,435.06 L407.00,434.54 L407.50,433.85 L408.00,433.08 L408.30,432.60 L408.50,432.21 L409.00,430.88 L409.50,429.82 L409.70,429.70 L410.00,429.86 L410.50,430.61 L411.00,431.57 L411.20,431.90 L411.50,432.40 L412.00,433.36 L412.50,434.30 L413.00,435.02 L413.40,435.30 L413.50,435.33 L414.00,435.46 L414.50,435.57 L415.00,435.67 L415.50,435.76 L416.00,435.84 L416.50,435.91 L417.00,435.97 L417.50,436.02 L418.00,436.07 L418.50,436.11 L419.00,436.15 L419.50,436.18 L420.00,436.22 L420.50,436.25 L421.00,436.28 L421.40,436.30 L421.50,436.31 L422.00,436.34 L422.50,436.37 L423.00,436.40 L423.50,436.43 L424.00,436.45 L424.50,436.48 L425.00,436.51 L425.50,436.53 L426.00,436.56 L426.50,436.58 L427.00,436.60 L427.50,436.62 L428.00,436.64 L428.50,436.65 L429.00,436.67 L429.50,436.68 L430.00,436.69 L430.50,436.69 L431.00,436.70 L431.50,436.70 L432.00,436.70 L432.50,436.70 L433.00,436.69 L433.50,436.69 L434.00,436.68 L434.50,436.67 L435.00,436.66 L435.50,436.65 L436.00,436.63 L436.50,436.62 L437.00,436.60 L437.50,436.59 L438.00,436.57 L438.50,436.55 L439.00,436.52 L439.50,436.50 L440.00,436.48 L440.50,436.45 L441.00,436.43 L441.50,436.40 L442.00,436.37 L442.50,436.34 L443.00,436.31 L443.20,436.30 L443.50,436.28 L444.00,436.23 L444.50,436.16 L445.00,436.07 L445.50,435.98 L446.00,435.87 L446.50,435.76 L447.00,435.64 L447.50,435.51 L448.00,435.39 L448.50,435.26 L449.00,435.14 L449.50,435.02 L450.00,434.90 L450.50,434.80 L451.00,434.70 L451.50,434.59 L452.00,434.47 L452.50,434.36 L453.00,434.24 L453.50,434.13 L454.00,434.01 L454.50,433.90 L455.00,433.80 L455.50,433.70 L456.00,433.61 L456.50,433.53 L457.00,433.47 L457.50,433.42 L457.70,433.40 L458.00,433.38 L458.50,433.34 L459.00,433.30 L459.50,433.27 L460.00,433.24 L460.50,433.21 L461.00,433.18 L461.50,433.16 L462.00,433.14 L462.50,433.12 L463.00,433.11 L463.50,433.10 L463.90,433.10 L464.00,433.10 L464.50,433.14 L465.00,433.24 L465.50,433.37 L466.00,433.54 L466.50,433.71 L467.00,433.89 L467.50,434.06 L468.00,434.21 L468.50,434.32 L469.00,434.39 L469.30,434.40 L469.50,434.40 L470.00,434.39 L470.50,434.37 L471.00,434.34 L471.50,434.31 L472.00,434.28 L472.50,434.24 L473.00,434.21 L473.50,434.17 L474.00,434.14 L474.50,434.12 L475.00,434.11 L475.50,434.10 L476.00,434.12 L476.50,434.18 L477.00,434.26 L477.50,434.37 L478.00,434.50 L478.50,434.64 L479.00,434.79 L479.50,434.93 L480.00,435.07 L480.10,435.10 L480.50,435.22 L481.00,435.40 L481.50,435.60 L482.00,435.81 L482.50,436.03 L483.00,436.25 L483.50,436.46 L484.00,436.65 L484.50,436.81 L485.00,436.93 L485.50,437.00 L486.00,437.05 L486.50,437.09 L487.00,437.13 L487.50,437.16 L488.00,437.19 L488.50,437.22 L489.00,437.25 L489.50,437.28 L490.00,437.30 L490.50,437.32 L491.00,437.34 L491.50,437.36 L492.00,437.38 L492.50,437.40 L493.00,437.42 L493.50,437.43 L494.00,437.45 L494.50,437.47 L495.00,437.48 L495.50,437.50 L496.00,437.52 L496.50,437.54 L497.00,437.56 L497.50,437.57 L498.00,437.59 L498.50,437.61 L499.00,437.63 L499.50,437.65 L500.00,437.67 L500.50,437.68 L501.00,437.70 L501.50,437.72 L502.00,437.73 L502.50,437.74 L503.00,437.76 L503.50,437.77 L504.00,437.78 L504.50,437.79 L505.00,437.79 L505.50,437.80 L506.00,437.80 L506.40,437.80 L506.50,437.80 L507.00,437.79 L507.50,437.78 L508.00,437.75 L508.50,437.72 L509.00,437.68 L509.50,437.62 L510.00,437.56 L510.50,437.49 L511.00,437.41 L511.50,437.32 L512.00,437.22 L512.50,437.11 L513.00,436.99 L513.50,436.87 L514.00,436.73 L514.10,436.70 L514.50,436.51 L515.00,436.08 L515.50,435.53 L516.00,434.90 L516.40,434.40 L516.50,434.27 L517.00,433.37 L517.50,432.35 L518.00,431.54 L518.40,431.30 L518.50,431.31 L519.00,431.70 L519.50,432.42 L520.00,433.21 L520.30,433.60 L520.50,433.83 L521.00,434.44 L521.50,435.07 L522.00,435.67 L522.50,436.18 L523.00,436.54 L523.40,436.70 L523.50,436.72 L524.00,436.82 L524.50,436.92 L525.00,437.00 L525.50,437.08 L526.00,437.15 L526.50,437.22 L527.00,437.28 L527.50,437.33 L528.00,437.37 L528.50,437.41 L529.00,437.44 L529.50,437.47 L530.00,437.48 L530.50,437.50 L531.00,437.50 L531.10,437.50 L531.50,437.50 L532.00,437.49 L532.50,437.47 L533.00,437.44 L533.50,437.41 L534.00,437.37 L534.50,437.32 L535.00,437.26 L535.50,437.20 L536.00,437.13 L536.50,437.05 L537.00,436.96 L537.50,436.87 L538.00,436.77 L538.50,436.66 L539.00,436.55 L539.50,436.43 L539.60,436.40" stroke="#148689"/>
</g>
<g stroke="#111" stroke-width="1.4">
<line x1="35.5" y1="115.5" x2="540.0" y2="115.5"/>
<line x1="35.5" y1="224.0" x2="540.0" y2="224.0"/>
<line x1="35.5" y1="333.0" x2="540.0" y2="333.0"/>
</g>
<rect x="35.5" y="6.8" width="504.5" height="435.2" fill="none" stroke="#111" stroke-width="1.6"/>
<g stroke="#111" stroke-width="1.3">
<line x1="35.60" y1="442.0" x2="35.60" y2="446.0" />
<line x1="56.60" y1="442.0" x2="56.60" y2="444.5" />
<line x1="77.60" y1="442.0" x2="77.60" y2="446.0" />
<line x1="98.60" y1="442.0" x2="98.60" y2="444.5" />
<line x1="119.60" y1="442.0" x2="119.60" y2="446.0" />
<line x1="140.60" y1="442.0" x2="140.60" y2="444.5" />
<line x1="161.60" y1="442.0" x2="161.60" y2="446.0" />
<line x1="182.60" y1="442.0" x2="182.60" y2="444.5" />
<line x1="203.60" y1="442.0" x2="203.60" y2="446.0" />
<line x1="224.60" y1="442.0" x2="224.60" y2="444.5" />
<line x1="245.60" y1="442.0" x2="245.60" y2="446.0" />
<line x1="266.60" y1="442.0" x2="266.60" y2="444.5" />
<line x1="287.60" y1="442.0" x2="287.60" y2="446.0" />
<line x1="308.60" y1="442.0" x2="308.60" y2="444.5" />
<line x1="329.60" y1="442.0" x2="329.60" y2="446.0" />
<line x1="350.60" y1="442.0" x2="350.60" y2="444.5" />
<line x1="371.60" y1="442.0" x2="371.60" y2="446.0" />
<line x1="392.60" y1="442.0" x2="392.60" y2="444.5" />
<line x1="413.60" y1="442.0" x2="413.60" y2="446.0" />
<line x1="434.60" y1="442.0" x2="434.60" y2="444.5" />
<line x1="455.60" y1="442.0" x2="455.60" y2="446.0" />
<line x1="476.60" y1="442.0" x2="476.60" y2="444.5" />
<line x1="497.60" y1="442.0" x2="497.60" y2="446.0" />
<line x1="518.60" y1="442.0" x2="518.60" y2="444.5" />
<line x1="539.60" y1="442.0" x2="539.60" y2="446.0" />
</g>
<text x="35.60" y="459" class="tl">20</text>
<text x="77.60" y="459" class="tl">25</text>
<text x="119.60" y="459" class="tl">30</text>
<text x="161.60" y="459" class="tl">35</text>
<text x="203.60" y="459" class="tl">40</text>
<text x="245.60" y="459" class="tl">45</text>
<text x="287.60" y="459" class="tl">50</text>
<text x="329.60" y="459" class="tl">55</text>
<text x="371.60" y="459" class="tl">60</text>
<text x="413.60" y="459" class="tl">65</text>
<text x="455.60" y="459" class="tl">70</text>
<text x="497.60" y="459" class="tl">75</text>
<text x="539.60" y="459" class="tl">80</text>
<text transform="translate(75.3,64.4) scale(1.15,1.0)" class="m" font-size="8.0">♣</text>
<text transform="translate(90.3,15.0) scale(1.15,1.0)" class="m" font-size="8.0">♣</text>
<text transform="translate(111.0,67.7) scale(1.15,1.0)" class="m" font-size="8.0">♣</text>
<text transform="translate(132.4,90.8) scale(1.15,0.95)" class="m" font-size="8.0">♦</text>
<text transform="translate(150.8,97.7) scale(1.15,0.95)" class="m" font-size="8.0">♦</text>
<text transform="translate(157.2,94.6) scale(1.15,0.95)" class="m" font-size="8.0">♦</text>
<text transform="translate(177.4,94.0) scale(1.15,1.0)" class="m" font-size="8.0">♣</text>
<text transform="translate(188.1,71.9) scale(1.1,1.0)" class="m" font-size="9.0">♠</text>
<text transform="translate(209.5,98.6) scale(1.15,0.95)" class="m" font-size="8.0">♦</text>
<text transform="translate(234.1,63.6) scale(1.15,1.0)" class="m" font-size="8.0">♣</text>
<text transform="translate(239.9,65.0) scale(1.1,1.0)" class="m" font-size="9.0">♠</text>
<text transform="translate(269.0,93.6) scale(1.15,1.0)" class="m" font-size="8.0">♣</text>
<text transform="translate(304.2,75.6) scale(1.15,1.0)" class="m" font-size="8.0">♣</text>
<text transform="translate(409.7,98.7) scale(1.1,1.0)" class="m" font-size="9.0">♠</text>
<text transform="translate(462.5,99.4) scale(1.15,1.0)" class="m" font-size="8.0">♣</text>
<text transform="translate(518.7,101.8) scale(1.1,1.0)" class="m" font-size="9.0">♠</text>
<text transform="translate(75.6,174.3) scale(1.15,1.0)" class="m" font-size="8.0">♣</text>
<text transform="translate(90.9,124.8) scale(1.15,1.0)" class="m" font-size="8.0">♣</text>
<text transform="translate(111.6,178.3) scale(1.15,1.0)" class="m" font-size="8.0">♣</text>
<text transform="translate(132.8,201.0) scale(1.15,0.95)" class="m" font-size="8.0">♦</text>
<text transform="translate(150.5,207.7) scale(1.15,0.95)" class="m" font-size="8.0">♦</text>
<text transform="translate(157.4,205.1) scale(1.15,0.95)" class="m" font-size="8.0">♦</text>
<text transform="translate(177.5,204.5) scale(1.15,1.0)" class="m" font-size="8.0">♣</text>
<text transform="translate(188.6,189.1) scale(1.1,1.0)" class="m" font-size="9.0">♠</text>
<text transform="translate(210.8,208.6) scale(1.15,0.95)" class="m" font-size="8.0">♦</text>
<text transform="translate(235.0,175.0) scale(1.15,1.0)" class="m" font-size="8.0">♣</text>
<text transform="translate(240.8,179.6) scale(1.1,1.0)" class="m" font-size="9.0">♠</text>
<text transform="translate(270.8,202.9) scale(1.15,1.0)" class="m" font-size="8.0">♣</text>
<text transform="translate(304.1,185.0) scale(1.15,1.0)" class="m" font-size="8.0">♣</text>
<text transform="translate(410.0,210.1) scale(1.1,1.0)" class="m" font-size="9.0">♠</text>
<text transform="translate(462.1,209.0) scale(1.15,1.0)" class="m" font-size="8.0">♣</text>
<text transform="translate(519.0,211.4) scale(1.1,1.0)" class="m" font-size="9.0">♠</text>
<text transform="translate(76.5,285.5) scale(1.15,1.0)" class="m" font-size="8.0">♣</text>
<text transform="translate(90.5,240.5) scale(1.15,1.0)" class="m" font-size="8.0">♣</text>
<text transform="translate(106.4,280.9) scale(1.15,1.0)" class="m" font-size="8.0">♣</text>
<text transform="translate(133.8,311.8) scale(1.15,0.95)" class="m" font-size="8.0">♦</text>
<text transform="translate(151.1,317.2) scale(1.15,0.95)" class="m" font-size="8.0">♦</text>
<text transform="translate(157.4,315.4) scale(1.15,0.95)" class="m" font-size="8.0">♦</text>
<text transform="translate(176.8,315.6) scale(1.15,1.0)" class="m" font-size="8.0">♣</text>
<text transform="translate(188.3,299.6) scale(1.1,1.0)" class="m" font-size="9.0">♠</text>
<text transform="translate(210.1,318.7) scale(1.15,0.95)" class="m" font-size="8.0">♦</text>
<text transform="translate(235.0,283.6) scale(1.15,1.0)" class="m" font-size="8.0">♣</text>
<text transform="translate(240.8,288.7) scale(1.1,1.0)" class="m" font-size="9.0">♠</text>
<text transform="translate(270.1,313.6) scale(1.15,1.0)" class="m" font-size="8.0">♣</text>
<text transform="translate(304.1,295.0) scale(1.15,1.0)" class="m" font-size="8.0">♣</text>
<text transform="translate(410.0,317.4) scale(1.1,1.0)" class="m" font-size="9.0">♠</text>
<text transform="translate(462.1,317.1) scale(1.15,1.0)" class="m" font-size="8.0">♣</text>
<text transform="translate(519.0,320.1) scale(1.1,1.0)" class="m" font-size="9.0">♠</text>
<text transform="translate(76.7,393.5) scale(1.15,1.0)" class="m" font-size="8.0">♣</text>
<text transform="translate(90.5,342.8) scale(1.15,1.0)" class="m" font-size="8.0">♣</text>
<text transform="translate(104.9,392.3) scale(1.15,1.0)" class="m" font-size="8.0">♣</text>
<text transform="translate(132.6,423.8) scale(1.15,0.95)" class="m" font-size="8.0">♦</text>
<text transform="translate(158.3,429.6) scale(1.15,0.95)" class="m" font-size="8.0">♦</text>
<text transform="translate(176.5,428.3) scale(1.15,1.0)" class="m" font-size="8.0">♣</text>
<text transform="translate(187.7,387.4) scale(1.1,1.0)" class="m" font-size="9.0">♠</text>
<text transform="translate(236.0,390.0) scale(1.15,1.0)" class="m" font-size="8.0">♣</text>
<text transform="translate(241.5,393.3) scale(1.1,1.0)" class="m" font-size="9.0">♠</text>
<text transform="translate(270.6,423.5) scale(1.15,1.0)" class="m" font-size="8.0">♣</text>
<text transform="translate(304.3,400.5) scale(1.15,1.0)" class="m" font-size="8.0">♣</text>
<text transform="translate(409.7,424.1) scale(1.1,1.0)" class="m" font-size="9.0">♠</text>
<text transform="translate(462.1,427.0) scale(1.15,1.0)" class="m" font-size="8.0">♣</text>
<text transform="translate(518.4,426.1) scale(1.1,1.0)" class="m" font-size="9.0">♠</text>
<text x="42.5" y="28" class="pl">(a)</text>
<text x="42" y="135" class="pl">(b)</text>
<text x="43.5" y="246" class="pl">(c)</text>
<text x="42" y="354" class="pl">(d)</text>
<text transform="translate(502.0,15.2) scale(1.1,1.0)" class="m" font-size="9.0">♠</text>
<text transform="translate(502.0,27.0) scale(1.15,1.0)" class="m" font-size="8.0">♣</text>
<text transform="translate(502.5,38.3) scale(1.15,0.95)" class="m" font-size="8.0">♦</text>
<text x="509" y="17.5" class="lg">Ag</text>
<text x="509" y="29.5" class="lg">CdS</text>
<text x="509" y="41.5" class="lg">Ag<tspan font-size="6.5" dy="3.5">2</tspan><tspan dy="-3.5">S</tspan></text>
<text x="289.3" y="483.6" class="ax" text-anchor="middle" textLength="149" lengthAdjust="spacingAndGlyphs">2Theta (degree)</text>
<text transform="translate(20.8,221.8) rotate(-90)" class="ax" text-anchor="middle" textLength="139.5" lengthAdjust="spacingAndGlyphs">Intensity (a.u.)</text>
</svg>
</body></html>
